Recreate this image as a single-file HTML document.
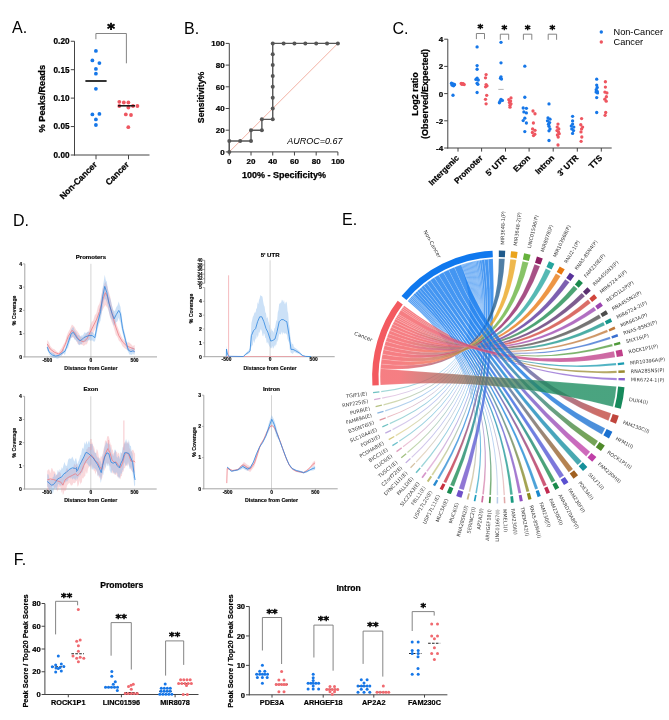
<!DOCTYPE html>
<html><head><meta charset="utf-8"><style>
html,body{margin:0;padding:0;background:#fff;}
svg{display:block;}
</style></head><body>
<svg width="669" height="720" viewBox="0 0 669 720">
<rect width="669" height="720" fill="#fff"/>
<text x="12" y="33" font-size="16" text-anchor="start" fill="#000" font-family='"Liberation Sans", Arial, sans-serif'>A.</text>
<line x1="74.5" y1="41.25" x2="74.5" y2="155.5" stroke="#444" stroke-width="1"/>
<line x1="74" y1="155" x2="149.5" y2="155" stroke="#444" stroke-width="1"/>
<line x1="70.8" y1="41.25" x2="74.5" y2="41.25" stroke="#444" stroke-width="1"/>
<text x="69.5" y="44.15" font-size="8.2" font-weight="bold" stroke="#000" stroke-width="0.23" text-anchor="end" fill="#000" font-family='"Liberation Sans", Arial, sans-serif'>0.20</text>
<line x1="70.8" y1="69.69" x2="74.5" y2="69.69" stroke="#444" stroke-width="1"/>
<text x="69.5" y="72.59" font-size="8.2" font-weight="bold" stroke="#000" stroke-width="0.23" text-anchor="end" fill="#000" font-family='"Liberation Sans", Arial, sans-serif'>0.15</text>
<line x1="70.8" y1="98.12" x2="74.5" y2="98.12" stroke="#444" stroke-width="1"/>
<text x="69.5" y="101.03" font-size="8.2" font-weight="bold" stroke="#000" stroke-width="0.23" text-anchor="end" fill="#000" font-family='"Liberation Sans", Arial, sans-serif'>0.10</text>
<line x1="70.8" y1="126.56" x2="74.5" y2="126.56" stroke="#444" stroke-width="1"/>
<text x="69.5" y="129.46" font-size="8.2" font-weight="bold" stroke="#000" stroke-width="0.23" text-anchor="end" fill="#000" font-family='"Liberation Sans", Arial, sans-serif'>0.05</text>
<line x1="70.8" y1="155" x2="74.5" y2="155" stroke="#444" stroke-width="1"/>
<text x="69.5" y="157.9" font-size="8.2" font-weight="bold" stroke="#000" stroke-width="0.23" text-anchor="end" fill="#000" font-family='"Liberation Sans", Arial, sans-serif'>0.00</text>
<line x1="96" y1="155" x2="96" y2="159.3" stroke="#444" stroke-width="1"/>
<line x1="128.5" y1="155" x2="128.5" y2="159.3" stroke="#444" stroke-width="1"/>
<text x="41.9" y="98.7" font-size="9.2" font-weight="bold" stroke="#000" stroke-width="0.25" text-anchor="middle" fill="#000" transform="rotate(-90 41.9 98.7)" font-family='"Liberation Sans", Arial, sans-serif' dominant-baseline="central">% Peaks/Reads</text>
<text x="97.6" y="165.2" font-size="8.6" font-weight="bold" stroke="#000" stroke-width="0.24" text-anchor="end" fill="#000" transform="rotate(-45 97.6 165.2)" font-family='"Liberation Sans", Arial, sans-serif'>Non-Cancer</text>
<text x="129.6" y="165.2" font-size="8.6" font-weight="bold" stroke="#000" stroke-width="0.24" text-anchor="end" fill="#000" transform="rotate(-45 129.6 165.2)" font-family='"Liberation Sans", Arial, sans-serif'>Cancer</text>
<path d="M95.9,39.2 V33.5 H126.4 V63.3" stroke="#777" stroke-width="0.9" fill="none"/>
<text x="111.1" y="32.97" font-size="14.5" font-weight="bold" text-anchor="middle" font-family='"DejaVu Sans", sans-serif' stroke="#000" stroke-width="0.73" stroke-linejoin="round">*</text>
<circle cx="95.9" cy="50.9" r="1.9" fill="#1677e8"/>
<circle cx="92.4" cy="60.4" r="1.9" fill="#1677e8"/>
<circle cx="99.4" cy="63.1" r="1.9" fill="#1677e8"/>
<circle cx="95.9" cy="68.9" r="1.9" fill="#1677e8"/>
<circle cx="95.9" cy="73.7" r="1.9" fill="#1677e8"/>
<circle cx="95.9" cy="88.8" r="1.9" fill="#1677e8"/>
<circle cx="92.4" cy="114.4" r="1.9" fill="#1677e8"/>
<circle cx="99.4" cy="113.9" r="1.9" fill="#1677e8"/>
<circle cx="95.9" cy="119.4" r="1.9" fill="#1677e8"/>
<circle cx="95.9" cy="125" r="1.9" fill="#1677e8"/>
<circle cx="119.3" cy="101.8" r="1.9" fill="#ee5660"/>
<circle cx="123.8" cy="102.5" r="1.9" fill="#ee5660"/>
<circle cx="128.4" cy="102.5" r="1.9" fill="#ee5660"/>
<circle cx="119.3" cy="106" r="1.9" fill="#ee5660"/>
<circle cx="128.4" cy="107.5" r="1.9" fill="#ee5660"/>
<circle cx="133" cy="106" r="1.9" fill="#ee5660"/>
<circle cx="137.4" cy="106" r="1.9" fill="#ee5660"/>
<circle cx="125.8" cy="114.4" r="1.9" fill="#ee5660"/>
<circle cx="131" cy="115" r="1.9" fill="#ee5660"/>
<circle cx="128.3" cy="127.2" r="1.9" fill="#ee5660"/>
<line x1="85.4" y1="81" x2="106.6" y2="81" stroke="#111" stroke-width="1.7"/>
<line x1="118" y1="105.8" x2="135" y2="105.8" stroke="#111" stroke-width="1.5"/>
<text x="184" y="34" font-size="16" text-anchor="start" fill="#000" font-family='"Liberation Sans", Arial, sans-serif'>B.</text>
<line x1="229.3" y1="43.4" x2="229.3" y2="152.4" stroke="#444" stroke-width="1"/>
<line x1="228.8" y1="151.9" x2="337.9" y2="151.9" stroke="#444" stroke-width="1"/>
<line x1="225.7" y1="151.9" x2="229.3" y2="151.9" stroke="#444" stroke-width="1"/>
<text x="224.7" y="154.7" font-size="8" font-weight="bold" stroke="#000" stroke-width="0.22" text-anchor="end" fill="#000" font-family='"Liberation Sans", Arial, sans-serif'>0</text>
<line x1="229.3" y1="151.9" x2="229.3" y2="155.5" stroke="#444" stroke-width="1"/>
<text x="229.3" y="163.9" font-size="8" font-weight="bold" stroke="#000" stroke-width="0.22" text-anchor="middle" fill="#000" font-family='"Liberation Sans", Arial, sans-serif'>0</text>
<line x1="225.7" y1="130.2" x2="229.3" y2="130.2" stroke="#444" stroke-width="1"/>
<text x="224.7" y="133" font-size="8" font-weight="bold" stroke="#000" stroke-width="0.22" text-anchor="end" fill="#000" font-family='"Liberation Sans", Arial, sans-serif'>20</text>
<line x1="251.02" y1="151.9" x2="251.02" y2="155.5" stroke="#444" stroke-width="1"/>
<text x="251.02" y="163.9" font-size="8" font-weight="bold" stroke="#000" stroke-width="0.22" text-anchor="middle" fill="#000" font-family='"Liberation Sans", Arial, sans-serif'>20</text>
<line x1="225.7" y1="108.5" x2="229.3" y2="108.5" stroke="#444" stroke-width="1"/>
<text x="224.7" y="111.3" font-size="8" font-weight="bold" stroke="#000" stroke-width="0.22" text-anchor="end" fill="#000" font-family='"Liberation Sans", Arial, sans-serif'>40</text>
<line x1="272.74" y1="151.9" x2="272.74" y2="155.5" stroke="#444" stroke-width="1"/>
<text x="272.74" y="163.9" font-size="8" font-weight="bold" stroke="#000" stroke-width="0.22" text-anchor="middle" fill="#000" font-family='"Liberation Sans", Arial, sans-serif'>40</text>
<line x1="225.7" y1="86.8" x2="229.3" y2="86.8" stroke="#444" stroke-width="1"/>
<text x="224.7" y="89.6" font-size="8" font-weight="bold" stroke="#000" stroke-width="0.22" text-anchor="end" fill="#000" font-family='"Liberation Sans", Arial, sans-serif'>60</text>
<line x1="294.46" y1="151.9" x2="294.46" y2="155.5" stroke="#444" stroke-width="1"/>
<text x="294.46" y="163.9" font-size="8" font-weight="bold" stroke="#000" stroke-width="0.22" text-anchor="middle" fill="#000" font-family='"Liberation Sans", Arial, sans-serif'>60</text>
<line x1="225.7" y1="65.1" x2="229.3" y2="65.1" stroke="#444" stroke-width="1"/>
<text x="224.7" y="67.9" font-size="8" font-weight="bold" stroke="#000" stroke-width="0.22" text-anchor="end" fill="#000" font-family='"Liberation Sans", Arial, sans-serif'>80</text>
<line x1="316.18" y1="151.9" x2="316.18" y2="155.5" stroke="#444" stroke-width="1"/>
<text x="316.18" y="163.9" font-size="8" font-weight="bold" stroke="#000" stroke-width="0.22" text-anchor="middle" fill="#000" font-family='"Liberation Sans", Arial, sans-serif'>80</text>
<line x1="225.7" y1="43.4" x2="229.3" y2="43.4" stroke="#444" stroke-width="1"/>
<text x="224.7" y="46.2" font-size="8" font-weight="bold" stroke="#000" stroke-width="0.22" text-anchor="end" fill="#000" font-family='"Liberation Sans", Arial, sans-serif'>100</text>
<line x1="337.9" y1="151.9" x2="337.9" y2="155.5" stroke="#444" stroke-width="1"/>
<text x="337.9" y="163.9" font-size="8" font-weight="bold" stroke="#000" stroke-width="0.22" text-anchor="middle" fill="#000" font-family='"Liberation Sans", Arial, sans-serif'>100</text>
<line x1="229.3" y1="151.9" x2="337.9" y2="43.4" stroke="#f0a898" stroke-width="0.9"/>
<polyline points="229.3,151.9 229.3,141.05 240.16,141.05 251.02,141.05 251.02,130.2 261.88,130.2 261.88,119.35 272.74,119.35 272.74,108.5 272.74,97.65 272.74,86.8 272.74,75.95 272.74,65.1 272.74,54.25 272.74,43.4 283.6,43.4 294.46,43.4 305.32,43.4 316.18,43.4 327.04,43.4 337.9,43.4" fill="none" stroke="#555" stroke-width="1.4"/>
<circle cx="229.3" cy="151.9" r="2" fill="#555"/>
<circle cx="229.3" cy="141.05" r="2" fill="#555"/>
<circle cx="240.16" cy="141.05" r="2" fill="#555"/>
<circle cx="251.02" cy="141.05" r="2" fill="#555"/>
<circle cx="251.02" cy="130.2" r="2" fill="#555"/>
<circle cx="261.88" cy="130.2" r="2" fill="#555"/>
<circle cx="261.88" cy="119.35" r="2" fill="#555"/>
<circle cx="272.74" cy="119.35" r="2" fill="#555"/>
<circle cx="272.74" cy="108.5" r="2" fill="#555"/>
<circle cx="272.74" cy="97.65" r="2" fill="#555"/>
<circle cx="272.74" cy="86.8" r="2" fill="#555"/>
<circle cx="272.74" cy="75.95" r="2" fill="#555"/>
<circle cx="272.74" cy="65.1" r="2" fill="#555"/>
<circle cx="272.74" cy="54.25" r="2" fill="#555"/>
<circle cx="272.74" cy="43.4" r="2" fill="#555"/>
<circle cx="283.6" cy="43.4" r="2" fill="#555"/>
<circle cx="294.46" cy="43.4" r="2" fill="#555"/>
<circle cx="305.32" cy="43.4" r="2" fill="#555"/>
<circle cx="316.18" cy="43.4" r="2" fill="#555"/>
<circle cx="327.04" cy="43.4" r="2" fill="#555"/>
<circle cx="337.9" cy="43.4" r="2" fill="#555"/>
<text x="200.9" y="97.4" font-size="8.75" font-weight="bold" stroke="#000" stroke-width="0.24" text-anchor="middle" fill="#000" transform="rotate(-90 200.9 97.4)" font-family='"Liberation Sans", Arial, sans-serif' dominant-baseline="central">Sensitivity%</text>
<text x="283.9" y="178" font-size="9" font-weight="bold" stroke="#000" stroke-width="0.25" text-anchor="middle" fill="#000" font-family='"Liberation Sans", Arial, sans-serif'>100% - Specificity%</text>
<text x="342.5" y="144.2" font-size="9" text-anchor="end" fill="#000" font-style="italic" font-family='"Liberation Sans", Arial, sans-serif'>AUROC=0.67</text>
<text x="392.5" y="34.2" font-size="16" text-anchor="start" fill="#000" font-family='"Liberation Sans", Arial, sans-serif'>C.</text>
<line x1="447.8" y1="39.2" x2="447.8" y2="148.5" stroke="#444" stroke-width="1"/>
<line x1="447.3" y1="148" x2="611.7" y2="148" stroke="#444" stroke-width="1"/>
<line x1="444.2" y1="39.2" x2="447.8" y2="39.2" stroke="#444" stroke-width="1"/>
<text x="443.2" y="42.1" font-size="8" font-weight="bold" stroke="#000" stroke-width="0.22" text-anchor="end" fill="#000" font-family='"Liberation Sans", Arial, sans-serif'>4</text>
<line x1="444.2" y1="66.4" x2="447.8" y2="66.4" stroke="#444" stroke-width="1"/>
<text x="443.2" y="69.3" font-size="8" font-weight="bold" stroke="#000" stroke-width="0.22" text-anchor="end" fill="#000" font-family='"Liberation Sans", Arial, sans-serif'>2</text>
<line x1="444.2" y1="93.6" x2="447.8" y2="93.6" stroke="#444" stroke-width="1"/>
<text x="443.2" y="96.5" font-size="8" font-weight="bold" stroke="#000" stroke-width="0.22" text-anchor="end" fill="#000" font-family='"Liberation Sans", Arial, sans-serif'>0</text>
<line x1="444.2" y1="120.8" x2="447.8" y2="120.8" stroke="#444" stroke-width="1"/>
<text x="443.2" y="123.7" font-size="8" font-weight="bold" stroke="#000" stroke-width="0.22" text-anchor="end" fill="#000" font-family='"Liberation Sans", Arial, sans-serif'>-2</text>
<line x1="444.2" y1="148" x2="447.8" y2="148" stroke="#444" stroke-width="1"/>
<text x="443.2" y="150.9" font-size="8" font-weight="bold" stroke="#000" stroke-width="0.22" text-anchor="end" fill="#000" font-family='"Liberation Sans", Arial, sans-serif'>-4</text>
<line x1="458" y1="148" x2="458" y2="151.6" stroke="#444" stroke-width="1"/>
<text x="459.6" y="158.4" font-size="8.2" font-weight="bold" stroke="#000" stroke-width="0.23" text-anchor="end" fill="#000" transform="rotate(-45 459.6 158.4)" font-family='"Liberation Sans", Arial, sans-serif'>Intergenic</text>
<line x1="481.6" y1="148" x2="481.6" y2="151.6" stroke="#444" stroke-width="1"/>
<text x="483.2" y="158.4" font-size="8.2" font-weight="bold" stroke="#000" stroke-width="0.23" text-anchor="end" fill="#000" transform="rotate(-45 483.2 158.4)" font-family='"Liberation Sans", Arial, sans-serif'>Promoter</text>
<line x1="505.5" y1="148" x2="505.5" y2="151.6" stroke="#444" stroke-width="1"/>
<text x="507.1" y="158.4" font-size="8.2" font-weight="bold" stroke="#000" stroke-width="0.23" text-anchor="end" fill="#000" transform="rotate(-45 507.1 158.4)" font-family='"Liberation Sans", Arial, sans-serif'>5' UTR</text>
<line x1="529.1" y1="148" x2="529.1" y2="151.6" stroke="#444" stroke-width="1"/>
<text x="530.7" y="158.4" font-size="8.2" font-weight="bold" stroke="#000" stroke-width="0.23" text-anchor="end" fill="#000" transform="rotate(-45 530.7 158.4)" font-family='"Liberation Sans", Arial, sans-serif'>Exon</text>
<line x1="553.2" y1="148" x2="553.2" y2="151.6" stroke="#444" stroke-width="1"/>
<text x="554.8" y="158.4" font-size="8.2" font-weight="bold" stroke="#000" stroke-width="0.23" text-anchor="end" fill="#000" transform="rotate(-45 554.8 158.4)" font-family='"Liberation Sans", Arial, sans-serif'>Intron</text>
<line x1="577.3" y1="148" x2="577.3" y2="151.6" stroke="#444" stroke-width="1"/>
<text x="578.9" y="158.4" font-size="8.2" font-weight="bold" stroke="#000" stroke-width="0.23" text-anchor="end" fill="#000" transform="rotate(-45 578.9 158.4)" font-family='"Liberation Sans", Arial, sans-serif'>3' UTR</text>
<line x1="601.3" y1="148" x2="601.3" y2="151.6" stroke="#444" stroke-width="1"/>
<text x="602.9" y="158.4" font-size="8.2" font-weight="bold" stroke="#000" stroke-width="0.23" text-anchor="end" fill="#000" transform="rotate(-45 602.9 158.4)" font-family='"Liberation Sans", Arial, sans-serif'>TTS</text>
<text x="414.9" y="94" font-size="9" font-weight="bold" stroke="#000" stroke-width="0.25" text-anchor="middle" fill="#000" transform="rotate(-90 414.9 94)" font-family='"Liberation Sans", Arial, sans-serif' dominant-baseline="central">Log2 ratio</text>
<text x="424.7" y="94" font-size="9" font-weight="bold" stroke="#000" stroke-width="0.25" text-anchor="middle" fill="#000" transform="rotate(-90 424.7 94)" font-family='"Liberation Sans", Arial, sans-serif' dominant-baseline="central">(Observed/Expected)</text>
<path d="M476.4,39.1 V33.5 H484.5 V39.1" stroke="#777" stroke-width="0.9" fill="none"/>
<text x="480.5" y="31.86" font-size="11" font-weight="bold" text-anchor="middle" font-family='"DejaVu Sans", sans-serif' stroke="#000" stroke-width="0.55" stroke-linejoin="round">*</text>
<path d="M500.3,39.8 V34.2 H508.7 V39.8" stroke="#777" stroke-width="0.9" fill="none"/>
<text x="504.5" y="32.66" font-size="11" font-weight="bold" text-anchor="middle" font-family='"DejaVu Sans", sans-serif' stroke="#000" stroke-width="0.55" stroke-linejoin="round">*</text>
<path d="M523.4,39.8 V34.2 H531.8 V39.8" stroke="#777" stroke-width="0.9" fill="none"/>
<text x="527.7" y="32.66" font-size="11" font-weight="bold" text-anchor="middle" font-family='"DejaVu Sans", sans-serif' stroke="#000" stroke-width="0.55" stroke-linejoin="round">*</text>
<path d="M548.2,39.8 V34.2 H556.6 V39.8" stroke="#777" stroke-width="0.9" fill="none"/>
<text x="552.4" y="32.66" font-size="11" font-weight="bold" text-anchor="middle" font-family='"DejaVu Sans", sans-serif' stroke="#000" stroke-width="0.55" stroke-linejoin="round">*</text>
<line x1="498.3" y1="89.4" x2="503.7" y2="89.4" stroke="#999" stroke-width="0.7"/>
<circle cx="601.3" cy="32" r="1.7" fill="#1677e8"/>
<circle cx="601.3" cy="42" r="1.7" fill="#ee5660"/>
<text x="613.5" y="35.2" font-size="9.2" text-anchor="start" fill="#000" font-family='"Liberation Sans", Arial, sans-serif'>Non-Cancer</text>
<text x="613.5" y="45.2" font-size="9.2" text-anchor="start" fill="#000" font-family='"Liberation Sans", Arial, sans-serif'>Cancer</text>
<circle cx="451.5" cy="83.26" r="1.65" fill="#1677e8"/>
<circle cx="453" cy="83.81" r="1.65" fill="#1677e8"/>
<circle cx="454.2" cy="84.35" r="1.65" fill="#1677e8"/>
<circle cx="452.2" cy="85.17" r="1.65" fill="#1677e8"/>
<circle cx="453.5" cy="85.85" r="1.65" fill="#1677e8"/>
<circle cx="454.5" cy="84.76" r="1.65" fill="#1677e8"/>
<circle cx="452" cy="84.08" r="1.65" fill="#1677e8"/>
<circle cx="453" cy="95.23" r="1.65" fill="#1677e8"/>
<circle cx="461.2" cy="83.4" r="1.65" fill="#ee5660"/>
<circle cx="462.4" cy="83.81" r="1.65" fill="#ee5660"/>
<circle cx="463.6" cy="84.08" r="1.65" fill="#ee5660"/>
<circle cx="461.8" cy="84.35" r="1.65" fill="#ee5660"/>
<circle cx="463" cy="83.67" r="1.65" fill="#ee5660"/>
<circle cx="464.2" cy="84.62" r="1.65" fill="#ee5660"/>
<circle cx="477.1" cy="46.95" r="1.65" fill="#1677e8"/>
<circle cx="477.1" cy="65.58" r="1.65" fill="#1677e8"/>
<circle cx="477.1" cy="69.26" r="1.65" fill="#1677e8"/>
<circle cx="477.1" cy="78.1" r="1.65" fill="#1677e8"/>
<circle cx="475.9" cy="79.46" r="1.65" fill="#1677e8"/>
<circle cx="478.3" cy="80" r="1.65" fill="#1677e8"/>
<circle cx="477.1" cy="83.26" r="1.65" fill="#1677e8"/>
<circle cx="477.9" cy="84.35" r="1.65" fill="#1677e8"/>
<circle cx="477.1" cy="92.51" r="1.65" fill="#1677e8"/>
<circle cx="486.1" cy="74.56" r="1.65" fill="#ee5660"/>
<circle cx="485.5" cy="77.82" r="1.65" fill="#ee5660"/>
<circle cx="486.1" cy="84.62" r="1.65" fill="#ee5660"/>
<circle cx="487" cy="85.85" r="1.65" fill="#ee5660"/>
<circle cx="485.6" cy="86.8" r="1.65" fill="#ee5660"/>
<circle cx="486.7" cy="95.37" r="1.65" fill="#ee5660"/>
<circle cx="485.5" cy="99.31" r="1.65" fill="#ee5660"/>
<circle cx="486.1" cy="103.8" r="1.65" fill="#ee5660"/>
<circle cx="501" cy="42.33" r="1.65" fill="#1677e8"/>
<circle cx="501" cy="62.86" r="1.65" fill="#1677e8"/>
<circle cx="501" cy="76.87" r="1.65" fill="#1677e8"/>
<circle cx="500.5" cy="78.23" r="1.65" fill="#1677e8"/>
<circle cx="501.5" cy="79.05" r="1.65" fill="#1677e8"/>
<circle cx="501" cy="99.31" r="1.65" fill="#1677e8"/>
<circle cx="502.4" cy="100.4" r="1.65" fill="#1677e8"/>
<circle cx="500" cy="101.49" r="1.65" fill="#1677e8"/>
<circle cx="499.4" cy="102.85" r="1.65" fill="#1677e8"/>
<circle cx="511" cy="97.95" r="1.65" fill="#ee5660"/>
<circle cx="508.8" cy="99.72" r="1.65" fill="#ee5660"/>
<circle cx="510.6" cy="101.08" r="1.65" fill="#ee5660"/>
<circle cx="509.4" cy="102.44" r="1.65" fill="#ee5660"/>
<circle cx="511" cy="103.8" r="1.65" fill="#ee5660"/>
<circle cx="510" cy="105.16" r="1.65" fill="#ee5660"/>
<circle cx="510" cy="107.2" r="1.65" fill="#ee5660"/>
<circle cx="524.8" cy="66.13" r="1.65" fill="#1677e8"/>
<circle cx="524.8" cy="97.27" r="1.65" fill="#1677e8"/>
<circle cx="523.2" cy="108.02" r="1.65" fill="#1677e8"/>
<circle cx="526.4" cy="108.29" r="1.65" fill="#1677e8"/>
<circle cx="523.9" cy="111.96" r="1.65" fill="#1677e8"/>
<circle cx="526.4" cy="112.91" r="1.65" fill="#1677e8"/>
<circle cx="524.8" cy="118.22" r="1.65" fill="#1677e8"/>
<circle cx="523.2" cy="120.53" r="1.65" fill="#1677e8"/>
<circle cx="526.4" cy="122.98" r="1.65" fill="#1677e8"/>
<circle cx="524.8" cy="131.54" r="1.65" fill="#1677e8"/>
<circle cx="533" cy="111.01" r="1.65" fill="#ee5660"/>
<circle cx="535" cy="113.73" r="1.65" fill="#ee5660"/>
<circle cx="533.4" cy="122.98" r="1.65" fill="#ee5660"/>
<circle cx="532.6" cy="128.96" r="1.65" fill="#ee5660"/>
<circle cx="535" cy="130.32" r="1.65" fill="#ee5660"/>
<circle cx="532.4" cy="132.5" r="1.65" fill="#ee5660"/>
<circle cx="534.8" cy="134.26" r="1.65" fill="#ee5660"/>
<circle cx="533.5" cy="135.62" r="1.65" fill="#ee5660"/>
<circle cx="549" cy="103.94" r="1.65" fill="#1677e8"/>
<circle cx="548" cy="117.94" r="1.65" fill="#1677e8"/>
<circle cx="550" cy="119.17" r="1.65" fill="#1677e8"/>
<circle cx="547.5" cy="120.8" r="1.65" fill="#1677e8"/>
<circle cx="549.6" cy="122.57" r="1.65" fill="#1677e8"/>
<circle cx="548.5" cy="124.2" r="1.65" fill="#1677e8"/>
<circle cx="549" cy="126.24" r="1.65" fill="#1677e8"/>
<circle cx="550" cy="128.96" r="1.65" fill="#1677e8"/>
<circle cx="549" cy="130.86" r="1.65" fill="#1677e8"/>
<circle cx="549" cy="140.52" r="1.65" fill="#1677e8"/>
<circle cx="558" cy="124.06" r="1.65" fill="#ee5660"/>
<circle cx="557.2" cy="127.06" r="1.65" fill="#ee5660"/>
<circle cx="558.8" cy="128.96" r="1.65" fill="#ee5660"/>
<circle cx="557" cy="130.59" r="1.65" fill="#ee5660"/>
<circle cx="558.5" cy="131.95" r="1.65" fill="#ee5660"/>
<circle cx="559.2" cy="133.72" r="1.65" fill="#ee5660"/>
<circle cx="557.4" cy="134.94" r="1.65" fill="#ee5660"/>
<circle cx="558.2" cy="136.98" r="1.65" fill="#ee5660"/>
<circle cx="558" cy="145.01" r="1.65" fill="#ee5660"/>
<circle cx="572.6" cy="116.31" r="1.65" fill="#1677e8"/>
<circle cx="572.6" cy="120.94" r="1.65" fill="#1677e8"/>
<circle cx="572.6" cy="124.06" r="1.65" fill="#1677e8"/>
<circle cx="571.3" cy="125.97" r="1.65" fill="#1677e8"/>
<circle cx="573.8" cy="127.06" r="1.65" fill="#1677e8"/>
<circle cx="571.8" cy="128.96" r="1.65" fill="#1677e8"/>
<circle cx="573.5" cy="130.59" r="1.65" fill="#1677e8"/>
<circle cx="572.6" cy="133.45" r="1.65" fill="#1677e8"/>
<circle cx="581.6" cy="118.62" r="1.65" fill="#ee5660"/>
<circle cx="580.8" cy="124.74" r="1.65" fill="#ee5660"/>
<circle cx="582.6" cy="127.06" r="1.65" fill="#ee5660"/>
<circle cx="581.6" cy="128.96" r="1.65" fill="#ee5660"/>
<circle cx="581" cy="131.95" r="1.65" fill="#ee5660"/>
<circle cx="581.8" cy="136.98" r="1.65" fill="#ee5660"/>
<circle cx="581.1" cy="141.34" r="1.65" fill="#ee5660"/>
<circle cx="596.7" cy="79.18" r="1.65" fill="#1677e8"/>
<circle cx="596.7" cy="85.03" r="1.65" fill="#1677e8"/>
<circle cx="597.2" cy="87.48" r="1.65" fill="#1677e8"/>
<circle cx="596.2" cy="89.66" r="1.65" fill="#1677e8"/>
<circle cx="597.2" cy="91.29" r="1.65" fill="#1677e8"/>
<circle cx="596.1" cy="92.1" r="1.65" fill="#1677e8"/>
<circle cx="597.5" cy="92.92" r="1.65" fill="#1677e8"/>
<circle cx="596.7" cy="97.54" r="1.65" fill="#1677e8"/>
<circle cx="596.7" cy="112.5" r="1.65" fill="#1677e8"/>
<circle cx="605.4" cy="81.77" r="1.65" fill="#ee5660"/>
<circle cx="605.4" cy="87.07" r="1.65" fill="#ee5660"/>
<circle cx="604.9" cy="92.1" r="1.65" fill="#ee5660"/>
<circle cx="606.9" cy="92.92" r="1.65" fill="#ee5660"/>
<circle cx="606.4" cy="96.73" r="1.65" fill="#ee5660"/>
<circle cx="604.8" cy="99.18" r="1.65" fill="#ee5660"/>
<circle cx="606.2" cy="101.22" r="1.65" fill="#ee5660"/>
<circle cx="605.7" cy="112.5" r="1.65" fill="#ee5660"/>
<circle cx="605.1" cy="115.36" r="1.65" fill="#ee5660"/>
<text x="13" y="225.5" font-size="16" text-anchor="start" fill="#000" font-family='"Liberation Sans", Arial, sans-serif'>D.</text>
<line x1="90.9" y1="263.8" x2="90.9" y2="356.9" stroke="#cfcfcf" stroke-width="0.9"/>
<line x1="24.8" y1="263.8" x2="24.8" y2="357.3" stroke="#9a9a9a" stroke-width="0.9"/>
<line x1="24.4" y1="356.9" x2="157" y2="356.9" stroke="#9a9a9a" stroke-width="0.9"/>
<line x1="23" y1="356.9" x2="24.8" y2="356.9" stroke="#9a9a9a" stroke-width="0.7"/>
<text x="22.1" y="358.75" font-size="5.2" font-weight="bold" stroke="#000" stroke-width="0.14" text-anchor="end" fill="#000" font-family='"Liberation Sans", Arial, sans-serif'>0</text>
<line x1="23" y1="333.63" x2="24.8" y2="333.63" stroke="#9a9a9a" stroke-width="0.7"/>
<text x="22.1" y="335.48" font-size="5.2" font-weight="bold" stroke="#000" stroke-width="0.14" text-anchor="end" fill="#000" font-family='"Liberation Sans", Arial, sans-serif'>1</text>
<line x1="23" y1="310.36" x2="24.8" y2="310.36" stroke="#9a9a9a" stroke-width="0.7"/>
<text x="22.1" y="312.21" font-size="5.2" font-weight="bold" stroke="#000" stroke-width="0.14" text-anchor="end" fill="#000" font-family='"Liberation Sans", Arial, sans-serif'>2</text>
<line x1="23" y1="287.09" x2="24.8" y2="287.09" stroke="#9a9a9a" stroke-width="0.7"/>
<text x="22.1" y="288.94" font-size="5.2" font-weight="bold" stroke="#000" stroke-width="0.14" text-anchor="end" fill="#000" font-family='"Liberation Sans", Arial, sans-serif'>3</text>
<line x1="23" y1="263.82" x2="24.8" y2="263.82" stroke="#9a9a9a" stroke-width="0.7"/>
<text x="22.1" y="265.67" font-size="5.2" font-weight="bold" stroke="#000" stroke-width="0.14" text-anchor="end" fill="#000" font-family='"Liberation Sans", Arial, sans-serif'>4</text>
<line x1="47.3" y1="356.9" x2="47.3" y2="358.7" stroke="#9a9a9a" stroke-width="0.7"/>
<text x="47.3" y="361.65" font-size="4.9" font-weight="bold" stroke="#000" stroke-width="0.13" text-anchor="middle" fill="#000" font-family='"Liberation Sans", Arial, sans-serif'>-500</text>
<line x1="90.9" y1="356.9" x2="90.9" y2="358.7" stroke="#9a9a9a" stroke-width="0.7"/>
<text x="90.9" y="361.65" font-size="4.9" font-weight="bold" stroke="#000" stroke-width="0.13" text-anchor="middle" fill="#000" font-family='"Liberation Sans", Arial, sans-serif'>0</text>
<line x1="134.5" y1="356.9" x2="134.5" y2="358.7" stroke="#9a9a9a" stroke-width="0.7"/>
<text x="134.5" y="361.65" font-size="4.9" font-weight="bold" stroke="#000" stroke-width="0.13" text-anchor="middle" fill="#000" font-family='"Liberation Sans", Arial, sans-serif'>500</text>
<text x="90.9" y="370.25" font-size="5.25" font-weight="bold" stroke="#000" stroke-width="0.14" text-anchor="middle" fill="#000" font-family='"Liberation Sans", Arial, sans-serif'>Distance from Center</text>
<text x="90.9" y="258.7" font-size="6.05" font-weight="bold" stroke="#000" stroke-width="0.17" text-anchor="middle" fill="#000" font-family='"Liberation Sans", Arial, sans-serif'>Promoters</text>
<text x="13.6" y="310.35" font-size="5.2" font-weight="bold" stroke="#000" stroke-width="0.14" text-anchor="middle" fill="#000" transform="rotate(-90 13.6 310.35)" font-family='"Liberation Sans", Arial, sans-serif' dominant-baseline="central">% Coverage</text>
<polygon points="47.2,340.05 48.77,341.88 50.34,345.93 52.43,348.54 54.53,349.24 56.62,351.54 58.71,352.51 60.28,349.68 61.85,347.63 63.42,344.6 64.99,341.99 66.56,336.25 68.13,332.29 70.01,329.08 71.89,324.44 73.15,325.45 74.4,326.7 75.97,329.81 77.54,331.47 79.11,333.67 80.68,336.79 82.25,337.45 83.82,336.86 85.39,334.86 86.96,332.77 88.53,331.56 90.1,325.67 91.67,321.89 93.24,320.55 94.81,315.18 96.38,313.29 97.95,306.29 99.51,303.59 101.08,297.02 102.65,288.66 104.01,285.04 105.37,281.75 106.42,284.31 107.47,286.75 108.72,291.92 109.98,295.44 111.55,303.73 113.12,310.58 114.48,314.38 115.84,321.68 117.3,326.21 118.77,329.63 120.65,334.43 122.53,338.55 124.62,340.58 126.72,342.66 128.81,342.16 130.9,344.08 132.79,345.9 134.67,344.93 134.67,353.17 132.79,350.89 130.9,352.04 128.81,350.38 126.72,349.59 124.62,348.18 122.53,346.35 120.65,342.41 118.77,340.38 117.3,336.65 115.84,334.92 114.48,330.05 113.12,325.43 111.55,321.76 109.98,316.67 108.72,311.33 107.47,307.71 106.42,306.49 105.37,304.93 104.01,307.33 102.65,309.77 101.08,314.37 99.51,319.72 97.95,324.56 96.38,327.05 94.81,329.56 93.24,333.13 91.67,335.22 90.1,338.07 88.53,340.09 86.96,344.35 85.39,344.53 83.82,345.9 82.25,344.63 80.68,344.58 79.11,344.44 77.54,343.83 75.97,339.81 74.4,338.55 73.15,337.61 71.89,337.22 70.01,338.94 68.13,341.06 66.56,344.16 64.99,347.6 63.42,351.95 61.85,355.67 60.28,354.34 58.71,357.24 56.62,355.26 54.53,355.77 52.43,353.74 50.34,352.59 48.77,350.06 47.2,348.08" fill="rgba(240,150,158,0.36)"/>
<polygon points="47.2,344.01 48.25,346.48 49.29,351.08 50.86,351.95 52.43,352.45 54,353.37 55.57,355 57.14,354.6 58.71,354.5 60.28,353.28 61.85,351.44 63.42,349 64.99,349.77 66.56,343.92 68.13,337.99 69.7,334.86 71.27,329.48 72.31,327.68 73.36,326.9 74.4,329.99 75.45,331.19 76.5,332.47 77.54,334.77 78.59,335.1 79.64,335.66 80.68,336.62 81.73,335.19 82.77,335.45 83.82,333.64 84.87,331.93 85.91,333.3 87.48,331.7 89.05,331.63 90.62,331.22 92.19,331.93 93.55,332.92 94.91,334.46 96.17,326.01 97.42,319.05 98.99,311.57 100.56,303.8 101.61,295.52 102.65,288.02 103.7,281.62 104.75,274.75 105.79,280.15 106.84,281.79 107.88,289.02 108.93,295.44 110.5,298.99 112.07,306.1 113.12,309.51 114.16,311.19 115.21,310.33 116.25,307.35 117.51,305.52 118.77,301.58 119.6,304.86 120.44,306.66 121.49,314.35 122.53,322.15 124.1,330.29 125.67,336.39 127.03,343.09 128.39,347.69 129.65,348.48 130.9,348.99 131.95,347.62 132.99,347.55 133.83,348.45 134.67,348.42 134.67,354.4 133.83,354.84 132.99,353.27 131.95,354.99 130.9,354.51 129.65,354.76 128.39,352.28 127.03,349.8 125.67,345.22 124.1,338.66 122.53,333.1 121.49,327.93 120.44,322.18 119.6,320.64 118.77,317.49 117.51,321.28 116.25,322.3 115.21,323.87 114.16,325.97 113.12,324.06 112.07,319.88 110.5,317.77 108.93,312.27 107.88,306.19 106.84,302.47 105.79,299.56 104.75,298.43 103.7,301.18 102.65,307.57 101.61,314.02 100.56,320.4 98.99,324.17 97.42,330.07 96.17,336.43 94.91,341.45 93.55,341.58 92.19,340.31 90.62,340.86 89.05,340 87.48,340.69 85.91,341.9 84.87,341.55 83.82,342.03 82.77,342.25 81.73,344.26 80.68,343.94 79.64,345.15 78.59,344.99 77.54,341.74 76.5,341.49 75.45,339.98 74.4,339.61 73.36,336.33 72.31,337.07 71.27,337.9 69.7,342.27 68.13,347.67 66.56,349.17 64.99,354.88 63.42,353.55 61.85,355.42 60.28,357.04 58.71,358.28 57.14,358.77 55.57,357.88 54,357.97 52.43,357.37 50.86,356.71 49.29,354.44 48.25,351.58 47.2,350.59" fill="rgba(120,175,235,0.38)"/>
<polyline points="47.2,343.93 50.34,349.16 54.53,352.3 58.71,353.97 61.85,351.67 64.99,344.98 68.13,336.61 71.89,330.33 74.4,332.42 77.54,337.65 80.68,340.79 83.82,341.84 86.96,338.7 90.1,332.42 93.24,326.14 96.38,319.87 99.51,311.5 102.65,299.99 105.37,292.66 107.47,296.85 109.98,306.27 113.12,317.77 115.84,327.19 118.77,335.56 122.53,341.84 126.72,346.02 130.9,347.7 134.67,349.16" fill="none" stroke="#ec7c84" stroke-width="0.8" stroke-linejoin="round"/>
<polyline points="47.2,347.07 49.29,352.3 52.43,355.02 55.57,356.07 58.71,355.44 61.85,353.35 64.99,351.25 68.13,342.88 71.27,333.47 73.36,332.42 75.45,335.56 77.54,338.7 79.64,340.79 81.73,339.75 83.82,337.65 85.91,336.61 89.05,335.56 92.19,335.56 94.91,337.65 97.42,324.05 100.56,311.5 102.65,296.85 104.75,286.39 106.84,292.66 108.93,303.13 112.07,313.59 114.16,318.82 116.25,314.64 118.77,310.45 120.44,313.59 122.53,328.24 125.67,340.79 128.39,350.21 130.9,351.67 132.99,350.84 134.67,351.67" fill="none" stroke="#2f86e0" stroke-width="0.8" stroke-linejoin="round"/>
<line x1="204.7" y1="260.3" x2="204.7" y2="283.3" stroke="#555" stroke-width="0.7"/>
<line x1="202.9" y1="283.3" x2="204.7" y2="283.3" stroke="#555" stroke-width="0.5"/>
<text x="202.4" y="284.9" font-size="4.5" font-weight="bold" stroke="#000" stroke-width="0.12" text-anchor="end" fill="#000" font-family='"Liberation Sans", Arial, sans-serif'>30</text>
<line x1="202.9" y1="278.7" x2="204.7" y2="278.7" stroke="#555" stroke-width="0.5"/>
<text x="202.4" y="280.3" font-size="4.5" font-weight="bold" stroke="#000" stroke-width="0.12" text-anchor="end" fill="#000" font-family='"Liberation Sans", Arial, sans-serif'>32</text>
<line x1="202.9" y1="274.1" x2="204.7" y2="274.1" stroke="#555" stroke-width="0.5"/>
<text x="202.4" y="275.7" font-size="4.5" font-weight="bold" stroke="#000" stroke-width="0.12" text-anchor="end" fill="#000" font-family='"Liberation Sans", Arial, sans-serif'>34</text>
<line x1="202.9" y1="269.5" x2="204.7" y2="269.5" stroke="#555" stroke-width="0.5"/>
<text x="202.4" y="271.1" font-size="4.5" font-weight="bold" stroke="#000" stroke-width="0.12" text-anchor="end" fill="#000" font-family='"Liberation Sans", Arial, sans-serif'>36</text>
<line x1="202.9" y1="264.9" x2="204.7" y2="264.9" stroke="#555" stroke-width="0.5"/>
<text x="202.4" y="266.5" font-size="4.5" font-weight="bold" stroke="#000" stroke-width="0.12" text-anchor="end" fill="#000" font-family='"Liberation Sans", Arial, sans-serif'>38</text>
<line x1="202.9" y1="260.3" x2="204.7" y2="260.3" stroke="#555" stroke-width="0.5"/>
<text x="202.4" y="261.9" font-size="4.5" font-weight="bold" stroke="#000" stroke-width="0.12" text-anchor="end" fill="#000" font-family='"Liberation Sans", Arial, sans-serif'>40</text>
<line x1="270.1" y1="260.3" x2="270.1" y2="356.7" stroke="#cfcfcf" stroke-width="0.9"/>
<line x1="204.7" y1="287.5" x2="204.7" y2="357.1" stroke="#9a9a9a" stroke-width="0.9"/>
<line x1="204.3" y1="356.7" x2="334.7" y2="356.7" stroke="#9a9a9a" stroke-width="0.9"/>
<line x1="202.9" y1="356.7" x2="204.7" y2="356.7" stroke="#9a9a9a" stroke-width="0.7"/>
<text x="202" y="358.55" font-size="5.2" font-weight="bold" stroke="#000" stroke-width="0.14" text-anchor="end" fill="#000" font-family='"Liberation Sans", Arial, sans-serif'>0</text>
<line x1="202.9" y1="342.86" x2="204.7" y2="342.86" stroke="#9a9a9a" stroke-width="0.7"/>
<text x="202" y="344.71" font-size="5.2" font-weight="bold" stroke="#000" stroke-width="0.14" text-anchor="end" fill="#000" font-family='"Liberation Sans", Arial, sans-serif'>1</text>
<line x1="202.9" y1="329.02" x2="204.7" y2="329.02" stroke="#9a9a9a" stroke-width="0.7"/>
<text x="202" y="330.87" font-size="5.2" font-weight="bold" stroke="#000" stroke-width="0.14" text-anchor="end" fill="#000" font-family='"Liberation Sans", Arial, sans-serif'>2</text>
<line x1="202.9" y1="315.18" x2="204.7" y2="315.18" stroke="#9a9a9a" stroke-width="0.7"/>
<text x="202" y="317.03" font-size="5.2" font-weight="bold" stroke="#000" stroke-width="0.14" text-anchor="end" fill="#000" font-family='"Liberation Sans", Arial, sans-serif'>3</text>
<line x1="202.9" y1="301.34" x2="204.7" y2="301.34" stroke="#9a9a9a" stroke-width="0.7"/>
<text x="202" y="303.19" font-size="5.2" font-weight="bold" stroke="#000" stroke-width="0.14" text-anchor="end" fill="#000" font-family='"Liberation Sans", Arial, sans-serif'>4</text>
<line x1="202.9" y1="287.5" x2="204.7" y2="287.5" stroke="#9a9a9a" stroke-width="0.7"/>
<text x="202" y="289.35" font-size="5.2" font-weight="bold" stroke="#000" stroke-width="0.14" text-anchor="end" fill="#000" font-family='"Liberation Sans", Arial, sans-serif'>5</text>
<line x1="226.5" y1="356.7" x2="226.5" y2="358.5" stroke="#9a9a9a" stroke-width="0.7"/>
<text x="226.5" y="361.45" font-size="4.9" font-weight="bold" stroke="#000" stroke-width="0.13" text-anchor="middle" fill="#000" font-family='"Liberation Sans", Arial, sans-serif'>-500</text>
<line x1="270.1" y1="356.7" x2="270.1" y2="358.5" stroke="#9a9a9a" stroke-width="0.7"/>
<text x="270.1" y="361.45" font-size="4.9" font-weight="bold" stroke="#000" stroke-width="0.13" text-anchor="middle" fill="#000" font-family='"Liberation Sans", Arial, sans-serif'>0</text>
<line x1="313.7" y1="356.7" x2="313.7" y2="358.5" stroke="#9a9a9a" stroke-width="0.7"/>
<text x="313.7" y="361.45" font-size="4.9" font-weight="bold" stroke="#000" stroke-width="0.13" text-anchor="middle" fill="#000" font-family='"Liberation Sans", Arial, sans-serif'>500</text>
<text x="270.1" y="370.05" font-size="5.25" font-weight="bold" stroke="#000" stroke-width="0.14" text-anchor="middle" fill="#000" font-family='"Liberation Sans", Arial, sans-serif'>Distance from Center</text>
<text x="270.1" y="257" font-size="6.05" font-weight="bold" stroke="#000" stroke-width="0.17" text-anchor="middle" fill="#000" font-family='"Liberation Sans", Arial, sans-serif'>5' UTR</text>
<text x="191" y="308.5" font-size="5.2" font-weight="bold" stroke="#000" stroke-width="0.14" text-anchor="middle" fill="#000" transform="rotate(-90 191 308.5)" font-family='"Liberation Sans", Arial, sans-serif' dominant-baseline="central">% Coverage</text>
<polygon points="226.3,356.2 226.37,352.87 226.43,349.32 226.5,345.69 226.73,347.66 226.97,349.55 227.2,351.45 227.63,353.01 228.07,354.57 228.5,356 233.43,356.07 238.37,356.13 243.3,356.2 244.13,355.33 244.97,354.24 245.8,353.15 246.63,352.35 247.47,351.54 248.3,350.74 248.87,349.93 249.43,349.13 250,348.32 250.47,338.08 250.93,331.83 251.4,323.23 252.1,320.33 252.8,316.96 253.5,315.75 254.2,313.62 254.9,312.36 255.6,312.52 256.27,308.54 256.93,308.56 257.6,301.88 258.3,304.15 259,299.9 259.7,298.28 260.4,294.81 261.1,296.35 261.8,295.73 262.5,297.08 263.2,301.65 263.9,305.14 264.6,306.67 265.3,312.35 266,313.14 266.6,318.2 267.2,318.23 267.8,316.39 268.33,321.32 268.87,322.54 269.4,325.37 269.87,325.02 270.33,330.02 270.8,333.12 271.5,328.35 272.2,330.59 272.9,331.06 273.6,332.77 274.3,328.44 275,327.8 275.7,323.89 276.4,320.13 277.1,320.64 277.8,312.13 278.5,310.08 279.2,303.44 279.88,303.82 280.57,302.8 281.25,302.22 281.93,299.38 282.62,300.6 283.3,302.16 284,299.86 284.7,304.22 285.4,301.82 285.87,304.41 286.33,301.67 286.8,301.87 287.5,310.9 288.2,313.52 288.9,323.4 289.37,326.16 289.83,329.09 290.3,337.42 290.53,336.28 290.77,338.89 291,345.56 291.67,341.57 292.33,344.26 293,343.82 293.93,347 294.87,347.66 295.8,348.32 296.97,349.32 298.13,350.31 299.3,351.3 300.47,352.63 301.63,353.95 302.8,355.28 303.73,355.61 304.67,355.87 305.6,356.1 307.4,356.17 309.2,356.23 311,356.3 311,356.7 309.2,356.7 307.4,356.69 305.6,356.62 304.67,356.39 303.73,356.17 302.8,356.01 301.63,355.38 300.47,354.74 299.3,354.1 298.13,353.62 296.97,353.14 295.8,352.66 294.87,352.34 293.93,352.02 293,353.75 292.33,353.78 291.67,353.06 291,353.16 290.77,352.17 290.53,352.4 290.3,349.32 289.83,349.91 289.37,344.46 288.9,341.89 288.2,340.69 287.5,338.83 286.8,333.57 286.33,334.76 285.87,334.07 285.4,332.75 284.7,334.1 284,332.8 283.3,332.4 282.62,334.96 281.93,331.42 281.25,333.17 280.57,334.74 279.88,333.81 279.2,334.33 278.5,337.22 277.8,341.97 277.1,339.67 276.4,344.8 275.7,344.6 275,346.91 274.3,345.2 273.6,348.29 272.9,348.43 272.2,345.75 271.5,348.46 270.8,347.52 270.33,348.68 269.87,346.68 269.4,346.31 268.87,345.06 268.33,343.57 267.8,341.74 267.2,343.84 266.6,342.59 266,338.23 265.3,337.92 264.6,334.46 263.9,333.11 263.2,336.6 262.5,335.39 261.8,331.02 261.1,329.59 260.4,329.59 259.7,333.21 259,331.24 258.3,335.61 257.6,337.67 256.93,334.62 256.27,338.74 255.6,338.51 254.9,340.78 254.2,343.23 253.5,339.71 252.8,344.96 252.1,345.77 251.4,346.77 250.93,348.64 250.47,351.12 250,352.66 249.43,353.05 248.87,353.43 248.3,353.82 247.47,354.21 246.63,354.6 245.8,354.99 244.97,355.51 244.13,356.04 243.3,356.7 238.37,356.66 233.43,356.59 228.5,356.53 228.07,355.67 227.63,354.92 227.2,354.17 226.97,353.25 226.73,352.34 226.5,355.61 226.43,353.14 226.37,354.85 226.3,356.7" fill="rgba(120,175,235,0.38)"/>
<line x1="228.6" y1="275.3" x2="228.6" y2="356.7" stroke="#f4b4b8" stroke-width="0.9"/>
<line x1="226" y1="356.5" x2="306" y2="356.5" stroke="#f0a0a6" stroke-width="0.8"/>
<polyline points="226.3,356.5 226.5,349 227.2,353 228.5,356.3 243.3,356.5 245.8,354.2 248.3,352.5 250,350.8 251.4,335.6 253.5,330.7 255.6,328.6 257.6,321.7 259.7,316.8 261.8,316.8 263.9,321.7 266,328.6 267.8,332.1 269.4,337 270.8,341.1 272.9,340.4 275,339 277.1,331.4 279.2,321.7 281.25,319.6 283.3,319.6 285.4,321 286.8,321.7 288.9,334.2 290.3,343.9 291,349.4 293,349.4 295.8,350.8 299.3,352.9 302.8,355.7 305.6,356.4 311,356.6" fill="none" stroke="#2f86e0" stroke-width="0.8" stroke-linejoin="round"/>
<line x1="90.8" y1="396.3" x2="90.8" y2="489" stroke="#cfcfcf" stroke-width="0.9"/>
<line x1="24.6" y1="396.3" x2="24.6" y2="489.4" stroke="#9a9a9a" stroke-width="0.9"/>
<line x1="24.2" y1="489" x2="156.7" y2="489" stroke="#9a9a9a" stroke-width="0.9"/>
<line x1="22.8" y1="489" x2="24.6" y2="489" stroke="#9a9a9a" stroke-width="0.7"/>
<text x="21.9" y="490.85" font-size="5.2" font-weight="bold" stroke="#000" stroke-width="0.14" text-anchor="end" fill="#000" font-family='"Liberation Sans", Arial, sans-serif'>0</text>
<line x1="22.8" y1="465.83" x2="24.6" y2="465.83" stroke="#9a9a9a" stroke-width="0.7"/>
<text x="21.9" y="467.68" font-size="5.2" font-weight="bold" stroke="#000" stroke-width="0.14" text-anchor="end" fill="#000" font-family='"Liberation Sans", Arial, sans-serif'>1</text>
<line x1="22.8" y1="442.66" x2="24.6" y2="442.66" stroke="#9a9a9a" stroke-width="0.7"/>
<text x="21.9" y="444.51" font-size="5.2" font-weight="bold" stroke="#000" stroke-width="0.14" text-anchor="end" fill="#000" font-family='"Liberation Sans", Arial, sans-serif'>2</text>
<line x1="22.8" y1="419.49" x2="24.6" y2="419.49" stroke="#9a9a9a" stroke-width="0.7"/>
<text x="21.9" y="421.34" font-size="5.2" font-weight="bold" stroke="#000" stroke-width="0.14" text-anchor="end" fill="#000" font-family='"Liberation Sans", Arial, sans-serif'>3</text>
<line x1="22.8" y1="396.32" x2="24.6" y2="396.32" stroke="#9a9a9a" stroke-width="0.7"/>
<text x="21.9" y="398.17" font-size="5.2" font-weight="bold" stroke="#000" stroke-width="0.14" text-anchor="end" fill="#000" font-family='"Liberation Sans", Arial, sans-serif'>4</text>
<line x1="47.1" y1="489" x2="47.1" y2="490.8" stroke="#9a9a9a" stroke-width="0.7"/>
<text x="47.1" y="493.75" font-size="4.9" font-weight="bold" stroke="#000" stroke-width="0.13" text-anchor="middle" fill="#000" font-family='"Liberation Sans", Arial, sans-serif'>-500</text>
<line x1="90.8" y1="489" x2="90.8" y2="490.8" stroke="#9a9a9a" stroke-width="0.7"/>
<text x="90.8" y="493.75" font-size="4.9" font-weight="bold" stroke="#000" stroke-width="0.13" text-anchor="middle" fill="#000" font-family='"Liberation Sans", Arial, sans-serif'>0</text>
<line x1="134.5" y1="489" x2="134.5" y2="490.8" stroke="#9a9a9a" stroke-width="0.7"/>
<text x="134.5" y="493.75" font-size="4.9" font-weight="bold" stroke="#000" stroke-width="0.13" text-anchor="middle" fill="#000" font-family='"Liberation Sans", Arial, sans-serif'>500</text>
<text x="90.8" y="502.35" font-size="5.25" font-weight="bold" stroke="#000" stroke-width="0.14" text-anchor="middle" fill="#000" font-family='"Liberation Sans", Arial, sans-serif'>Distance from Center</text>
<text x="90.8" y="391" font-size="6.05" font-weight="bold" stroke="#000" stroke-width="0.17" text-anchor="middle" fill="#000" font-family='"Liberation Sans", Arial, sans-serif'>Exon</text>
<text x="13.6" y="442.65" font-size="5.2" font-weight="bold" stroke="#000" stroke-width="0.14" text-anchor="middle" fill="#000" transform="rotate(-90 13.6 442.65)" font-family='"Liberation Sans", Arial, sans-serif' dominant-baseline="central">% Coverage</text>
<polygon points="47.2,470.98 48.25,469.55 49.29,469.48 50.34,473.35 51.39,468.1 52.43,468.59 53.48,471.42 54.87,471.53 56.27,475.27 57.66,474.23 58.71,471.71 59.76,471.92 60.8,473.39 61.5,478.28 62.2,478.23 62.9,474.78 63.59,476.95 64.29,473.47 64.99,473.49 66.03,469.62 67.08,467.44 68.13,469.68 69.52,470.18 70.92,468.45 72.31,469.45 73.36,466.8 74.4,463.28 75.45,465.66 76.15,464.12 76.85,463.3 77.54,465.44 78.24,469.04 78.94,466.16 79.64,467.5 80.33,465.28 81.03,463.99 81.73,458.4 82.43,459.93 83.12,456.86 83.82,457.37 84.52,451.64 85.22,454.62 85.91,452.7 86.61,448.63 87.31,449.3 88.01,447.11 89.05,447.05 90.1,447.05 91.14,441.95 91.84,445.91 92.54,441.76 93.24,446.04 93.93,446.5 94.63,448.92 95.33,452.91 96.03,453.45 96.72,449.01 97.42,450.05 98.12,452.25 98.82,456.98 99.51,458.31 100.21,458.63 100.91,455.6 101.61,456.93 102.3,455.88 103,451.96 103.7,448.44 104.4,446.21 105.09,440.33 105.79,440.71 106.49,441.58 107.19,435.83 107.88,436.76 108.58,435.87 109.28,438.13 109.98,441.52 110.67,444.8 111.37,444.65 112.07,450.29 112.77,448.95 113.46,453.57 114.16,452.93 114.86,451.66 115.56,450.55 116.25,452.35 116.95,451.2 117.65,454.72 118.35,452.8 119.04,452.95 119.74,456.5 120.44,459.4 121.14,453.19 121.83,453.07 122.53,451.25 123.23,447.77 123.93,445.28 124.62,442.35 125.32,441.47 126.02,444.33 126.72,441.06 127.41,443.18 128.11,441.51 128.81,443.26 129.51,448.15 130.2,448.96 130.9,452.08 131.95,450.45 132.99,449.57 134.04,451.82 134.39,453.64 134.74,452.37 135.09,453.75 135.09,474.93 134.74,472.1 134.39,471.78 134.04,474.46 132.99,472.59 131.95,471.33 130.9,469.26 130.2,468.33 129.51,466.25 128.81,465 128.11,463.3 127.41,466.56 126.72,465.75 126.02,463.41 125.32,467.37 124.62,468.29 123.93,468.57 123.23,471.93 122.53,471.87 121.83,476.36 121.14,476.11 120.44,479.46 119.74,477.02 119.04,478.98 118.35,476.77 117.65,476.8 116.95,475.81 116.25,473.81 115.56,474.73 114.86,474.84 114.16,473.97 113.46,472.63 112.77,472.23 112.07,473.82 111.37,470.19 110.67,466.86 109.98,466.07 109.28,465.2 108.58,463.61 107.88,462.96 107.19,464.65 106.49,462.28 105.79,463.88 105.09,467.41 104.4,471.38 103.7,468.12 103,471.99 102.3,477.62 101.61,478.96 100.91,480.46 100.21,477.16 99.51,478.61 98.82,474.95 98.12,475.87 97.42,475.64 96.72,470.43 96.03,472.31 95.33,474.54 94.63,470.38 93.93,471.6 93.24,466.87 92.54,468.05 91.84,464.54 91.14,469.63 90.1,465.62 89.05,466.87 88.01,468.76 87.31,473.15 86.61,473.83 85.91,471.09 85.22,475.92 84.52,476.6 83.82,477.13 83.12,478.8 82.43,477.77 81.73,482.79 81.03,482.58 80.33,484.67 79.64,480.12 78.94,483.91 78.24,485.77 77.54,486.71 76.85,481.18 76.15,480.78 75.45,482.73 74.4,483.21 73.36,482.66 72.31,485.35 70.92,485.5 69.52,482.87 68.13,484.08 67.08,485.59 66.03,490.32 64.99,490.89 64.29,490.81 63.59,494.01 62.9,494.97 62.2,490.13 61.5,493.17 60.8,487.8 59.76,487.57 58.71,487.4 57.66,491.64 56.27,487.02 54.87,488.74 53.48,486.36 52.43,485.38 51.39,488.41 50.34,487.13 49.29,490.17 48.25,490.59 47.2,489.69" fill="rgba(240,150,158,0.36)"/>
<polygon points="47.2,475.02 47.9,473.68 48.6,475 49.29,478.5 49.99,479.41 50.69,480.01 51.39,478.67 52.08,480.24 52.78,476.98 53.48,477.04 54.18,473.7 54.87,473.46 55.57,476.8 56.27,474.64 56.97,474.22 57.66,470.29 58.36,470.44 59.06,472.98 59.76,468.86 60.45,470.66 61.15,469.43 61.85,466.99 62.55,469.11 63.24,466.24 63.94,463.83 64.64,461.94 65.34,464.91 66.03,466.12 67.08,465.61 68.13,460.08 69.17,458.23 70.22,458.68 71.27,458.74 72.31,456.55 73.36,458.98 74.4,461.7 75.45,458.42 76.15,458.16 76.85,461.56 77.54,464.53 78.24,461.68 78.94,460.37 79.64,457.98 80.33,454.83 81.03,455.12 81.73,450.73 82.43,447.53 83.12,449.2 83.82,447.14 84.52,441.81 85.22,444.77 85.91,442.69 86.61,440.87 87.31,444.7 88.01,442.82 89.05,440.34 90.1,443.99 91.14,444.05 91.84,443.5 92.54,444.44 93.24,448.12 93.93,451.04 94.63,452.47 95.33,452.77 96.03,453.17 96.72,456.39 97.42,456.96 98.12,458.99 98.82,457.04 99.51,460.79 100.07,461.69 100.63,460.36 101.19,464.23 101.68,463.75 102.17,459.46 102.65,453.78 103.35,455.46 104.05,449.28 104.75,446.04 105.44,444.55 106.14,440.96 106.84,443 107.54,443.96 108.23,442.16 108.93,443.77 109.63,444.03 110.33,446.94 111.02,450.3 111.72,454.24 112.42,453.86 113.12,456.22 113.81,454.44 114.51,449.86 115.21,449.58 115.91,450.82 116.6,456.56 117.3,458.05 118,456.27 118.7,455.76 119.39,457.67 119.88,459.35 120.37,452.66 120.86,451.89 121.42,454.13 121.97,452.03 122.53,447.01 123.23,447.67 123.93,442.98 124.62,443.8 125.32,439.14 126.02,443.69 126.72,438.68 127.41,442.7 128.11,444.25 128.81,439.45 129.51,443.85 130.2,446.14 130.9,445.52 131.46,450.54 132.02,452.19 132.58,453.65 133.06,458.75 133.55,461.75 134.04,464.71 134.39,468.05 134.74,469.93 135.09,472.16 135.09,484.76 134.74,486.02 134.39,486.52 134.04,484.61 133.55,478.6 133.06,477.97 132.58,471.69 132.02,471.48 131.46,468.51 130.9,466.8 130.2,469.43 129.51,468.47 128.81,465.43 128.11,461.43 127.41,464.46 126.72,464.93 126.02,465.94 125.32,465.82 124.62,461.89 123.93,464.13 123.23,470.91 122.53,469.73 121.97,473.07 121.42,473.91 120.86,472.95 120.37,476.12 119.88,476.72 119.39,478.89 118.7,476.36 118,478.28 117.3,473.5 116.6,472.6 115.91,472.4 115.21,475.1 114.51,472.16 113.81,473.94 113.12,471.76 112.42,469.96 111.72,472.59 111.02,473.62 110.33,471.59 109.63,470.23 108.93,463.23 108.23,466.27 107.54,465.92 106.84,463.18 106.14,466.37 105.44,469.28 104.75,464.79 104.05,467.93 103.35,475.19 102.65,472.88 102.17,475.62 101.68,476.77 101.19,481.18 100.63,483.02 100.07,476.59 99.51,476.72 98.82,474.32 98.12,477.46 97.42,473.18 96.72,470.99 96.03,469.49 95.33,469.24 94.63,467.76 93.93,470.25 93.24,467.93 92.54,469.72 91.84,469 91.14,464.04 90.1,466.63 89.05,466.28 88.01,464.75 87.31,463.62 86.61,462.44 85.91,463.53 85.22,463.35 84.52,464.2 83.82,469.93 83.12,468.33 82.43,472.24 81.73,473.57 81.03,472.17 80.33,475.92 79.64,473.39 78.94,478.03 78.24,475.64 77.54,479.23 76.85,479.86 76.15,476.95 75.45,480.6 74.4,478.66 73.36,478.26 72.31,479.76 71.27,477.31 70.22,478.63 69.17,477.43 68.13,479.9 67.08,481.38 66.03,481.21 65.34,483.12 64.64,479.59 63.94,480.92 63.24,485.35 62.55,484.46 61.85,486.11 61.15,484.02 60.45,486.04 59.76,485.4 59.06,484.37 58.36,483.81 57.66,485.97 56.97,488.14 56.27,490.46 55.57,487.18 54.87,488.94 54.18,488.21 53.48,491.04 52.78,494.52 52.08,490.36 51.39,494.16 50.69,489.14 49.99,490.59 49.29,490.43 48.6,489.09 47.9,486.84 47.2,486.83" fill="rgba(120,175,235,0.38)"/>
<polyline points="47.2,479.98 50.34,478.93 53.48,479.56 57.66,481.02 60.8,482.07 62.9,485.21 64.99,479.98 68.13,477.47 72.31,475.37 75.45,473.7 77.54,475.79 79.64,473.7 81.73,470.56 83.82,465.33 85.91,461.14 88.01,458.63 91.14,454.87 93.24,456.96 95.33,461.14 97.42,462.19 99.51,466.38 101.61,469.51 103.7,459.05 105.79,452.77 107.88,448.59 109.98,452.77 112.07,460.1 114.16,462.19 116.25,462.19 118.35,465.33 120.44,467.42 122.53,463.24 124.62,454.87 126.72,452.77 128.81,454.87 130.9,461.14 134.04,461.14 135.09,462.19" fill="none" stroke="#ec7c84" stroke-width="0.8" stroke-linejoin="round"/>
<polyline points="47.2,481.44 49.29,483.12 51.39,485.21 53.48,484.58 55.57,482.07 57.66,478.93 59.76,477.88 61.85,476.84 63.94,473.7 66.03,472.65 69.17,469.51 72.31,467.84 75.45,468.47 77.54,470.56 79.64,465.33 81.73,461.14 83.82,456.96 85.91,452.36 88.01,453.19 91.14,455.91 93.24,458.01 95.33,461.14 97.42,464.28 99.51,468.47 101.19,472.65 102.65,465.33 104.75,456.96 106.84,452.77 108.93,453.82 111.02,462.19 113.12,463.24 115.21,462.19 117.3,465.75 119.39,467.84 120.86,463.24 122.53,460.1 124.62,452.77 126.72,452.77 128.81,453.4 130.9,458.01 132.58,462.19 134.04,473.7 135.09,479.98" fill="none" stroke="#2f86e0" stroke-width="0.8" stroke-linejoin="round"/>
<line x1="76.5" y1="467" x2="76.5" y2="472" stroke="#2f86e0" stroke-width="0.6"/>
<line x1="123.9" y1="420.5" x2="123.9" y2="450" stroke="#f2a0a6" stroke-width="0.6"/>
<line x1="108.5" y1="440" x2="108.5" y2="452" stroke="#f2a0a6" stroke-width="0.6"/>
<line x1="91" y1="439" x2="91" y2="450" stroke="#f2a0a6" stroke-width="0.6"/>
<line x1="271.5" y1="395.2" x2="271.5" y2="488.8" stroke="#cfcfcf" stroke-width="0.9"/>
<line x1="203.8" y1="395.2" x2="203.8" y2="489.2" stroke="#9a9a9a" stroke-width="0.9"/>
<line x1="203.4" y1="488.8" x2="337.7" y2="488.8" stroke="#9a9a9a" stroke-width="0.9"/>
<line x1="202" y1="488.8" x2="203.8" y2="488.8" stroke="#9a9a9a" stroke-width="0.7"/>
<text x="201.1" y="490.65" font-size="5.2" font-weight="bold" stroke="#000" stroke-width="0.14" text-anchor="end" fill="#000" font-family='"Liberation Sans", Arial, sans-serif'>0</text>
<line x1="202" y1="457.6" x2="203.8" y2="457.6" stroke="#9a9a9a" stroke-width="0.7"/>
<text x="201.1" y="459.45" font-size="5.2" font-weight="bold" stroke="#000" stroke-width="0.14" text-anchor="end" fill="#000" font-family='"Liberation Sans", Arial, sans-serif'>1</text>
<line x1="202" y1="426.4" x2="203.8" y2="426.4" stroke="#9a9a9a" stroke-width="0.7"/>
<text x="201.1" y="428.25" font-size="5.2" font-weight="bold" stroke="#000" stroke-width="0.14" text-anchor="end" fill="#000" font-family='"Liberation Sans", Arial, sans-serif'>2</text>
<line x1="202" y1="395.2" x2="203.8" y2="395.2" stroke="#9a9a9a" stroke-width="0.7"/>
<text x="201.1" y="397.05" font-size="5.2" font-weight="bold" stroke="#000" stroke-width="0.14" text-anchor="end" fill="#000" font-family='"Liberation Sans", Arial, sans-serif'>3</text>
<line x1="227.6" y1="488.8" x2="227.6" y2="490.6" stroke="#9a9a9a" stroke-width="0.7"/>
<text x="227.6" y="493.55" font-size="4.9" font-weight="bold" stroke="#000" stroke-width="0.13" text-anchor="middle" fill="#000" font-family='"Liberation Sans", Arial, sans-serif'>-500</text>
<line x1="271.5" y1="488.8" x2="271.5" y2="490.6" stroke="#9a9a9a" stroke-width="0.7"/>
<text x="271.5" y="493.55" font-size="4.9" font-weight="bold" stroke="#000" stroke-width="0.13" text-anchor="middle" fill="#000" font-family='"Liberation Sans", Arial, sans-serif'>0</text>
<line x1="315.4" y1="488.8" x2="315.4" y2="490.6" stroke="#9a9a9a" stroke-width="0.7"/>
<text x="315.4" y="493.55" font-size="4.9" font-weight="bold" stroke="#000" stroke-width="0.13" text-anchor="middle" fill="#000" font-family='"Liberation Sans", Arial, sans-serif'>500</text>
<text x="271.5" y="502.15" font-size="5.25" font-weight="bold" stroke="#000" stroke-width="0.14" text-anchor="middle" fill="#000" font-family='"Liberation Sans", Arial, sans-serif'>Distance from Center</text>
<text x="271.5" y="390.7" font-size="6.05" font-weight="bold" stroke="#000" stroke-width="0.17" text-anchor="middle" fill="#000" font-family='"Liberation Sans", Arial, sans-serif'>Intron</text>
<text x="193.5" y="442" font-size="5.2" font-weight="bold" stroke="#000" stroke-width="0.14" text-anchor="middle" fill="#000" transform="rotate(-90 193.5 442)" font-family='"Liberation Sans", Arial, sans-serif' dominant-baseline="central">% Coverage</text>
<polygon points="226.78,482.42 227.2,467.77 229.29,468.4 232.43,469.86 235.57,469.44 238.71,468.4 241.85,464.63 243.94,462.01 247.08,464.52 250.22,466.2 254.4,460.34 257.54,450.92 260.68,443.7 263.82,438.47 266.96,431.15 270.1,425.92 272.19,424.87 274.28,426.96 277.42,433.24 280.56,441.61 283.7,451.03 286.84,459.4 289.98,465.68 293.12,468.81 296.25,470.49 300.44,471.33 303.58,471.95 306.72,469.86 309.86,467.14 312.99,462.08 315.09,460.62 315.09,465.02 312.99,466.48 309.86,468.54 306.72,471.26 303.58,473.35 300.44,472.73 296.25,471.89 293.12,470.21 289.98,467.08 286.84,460.8 283.7,452.43 280.56,443.01 277.42,434.64 274.28,428.36 272.19,426.27 270.1,427.32 266.96,432.55 263.82,439.87 260.68,445.1 257.54,456.72 254.4,466.14 250.22,472 247.08,470.32 243.94,467.81 241.85,466.03 238.71,469.8 235.57,470.84 232.43,471.26 229.29,469.8 227.2,469.17 226.78,483.82" fill="rgba(240,150,158,0.36)"/>
<polygon points="227.2,466.2 229.29,468.3 231.39,470.39 234.53,469.76 237.66,469.13 240.8,465.84 242.9,464.38 244.99,465.84 247.71,467.1 250.22,467.04 253.36,461.39 256.5,453.02 259.64,446.12 262.77,441.51 265.91,435.23 269.05,422.32 271.77,414.99 274.28,420.23 276.38,427.55 279.51,439.42 282.65,447.79 285.79,456.16 288.93,463.48 292.07,467.67 296.25,469.76 300.44,470.81 303.58,471.85 306.72,470.81 309.86,469.13 312.99,466.47 315.09,465.84 315.09,469.84 312.99,470.47 309.86,470.73 306.72,472.41 303.58,473.45 300.44,472.41 296.25,471.36 292.07,469.27 288.93,465.08 285.79,457.76 282.65,449.39 279.51,441.02 276.38,436.15 274.28,428.83 271.77,423.59 269.05,430.92 265.91,436.83 262.77,443.11 259.64,447.72 256.5,454.62 253.36,462.99 250.22,468.64 247.71,471.1 244.99,469.84 242.9,468.38 240.8,469.84 237.66,470.73 234.53,471.36 231.39,471.99 229.29,469.9 227.2,467.8" fill="rgba(120,175,235,0.38)"/>
<polyline points="226.78,483.12 227.2,468.47 229.29,469.1 232.43,470.56 235.57,470.14 238.71,469.1 241.85,465.33 243.94,464.91 247.08,467.42 250.22,469.1 254.4,463.24 257.54,453.82 260.68,444.4 263.82,439.17 266.96,431.85 270.1,426.62 272.19,425.57 274.28,427.66 277.42,433.94 280.56,442.31 283.7,451.73 286.84,460.1 289.98,466.38 293.12,469.51 296.25,471.19 300.44,472.03 303.58,472.65 306.72,470.56 309.86,467.84 312.99,464.28 315.09,462.82" fill="none" stroke="#ec7c84" stroke-width="0.8" stroke-linejoin="round"/>
<polyline points="227.2,467 229.29,469.1 231.39,471.19 234.53,470.56 237.66,469.93 240.8,467.84 242.9,466.38 244.99,467.84 247.71,469.1 250.22,467.84 253.36,462.19 256.5,453.82 259.64,446.92 262.77,442.31 265.91,436.03 269.05,426.62 271.77,419.29 274.28,424.53 276.38,431.85 279.51,440.22 282.65,448.59 285.79,456.96 288.93,464.28 292.07,468.47 296.25,470.56 300.44,471.61 303.58,472.65 306.72,471.61 309.86,469.93 312.99,468.47 315.09,467.84" fill="none" stroke="#2f86e0" stroke-width="0.8" stroke-linejoin="round"/>
<text x="342" y="225" font-size="16" text-anchor="start" fill="#000" font-family='"Liberation Sans", Arial, sans-serif'>E.</text>
<defs><linearGradient id="g1" gradientUnits="userSpaceOnUse" x1="461.67" y1="264.58" x2="381.11" y2="391.62"><stop offset="0" stop-color="#0f78ee"/><stop offset="0.3" stop-color="#0f78ee"/><stop offset="0.95" stop-color="#6ec1c1"/></linearGradient><linearGradient id="g2" gradientUnits="userSpaceOnUse" x1="462.75" y1="264.23" x2="382.11" y2="398.15"><stop offset="0" stop-color="#0f78ee"/><stop offset="0.3" stop-color="#0f78ee"/><stop offset="0.95" stop-color="#d6acd6"/></linearGradient><linearGradient id="g3" gradientUnits="userSpaceOnUse" x1="463.82" y1="263.9" x2="383.52" y2="404.82"><stop offset="0" stop-color="#0f78ee"/><stop offset="0.3" stop-color="#0f78ee"/><stop offset="0.95" stop-color="#b6c182"/></linearGradient><linearGradient id="g4" gradientUnits="userSpaceOnUse" x1="464.9" y1="263.57" x2="385.13" y2="410.8"><stop offset="0" stop-color="#0f78ee"/><stop offset="0.3" stop-color="#0f78ee"/><stop offset="0.95" stop-color="#89b6e0"/></linearGradient><linearGradient id="g5" gradientUnits="userSpaceOnUse" x1="465.98" y1="263.26" x2="387.26" y2="417.27"><stop offset="0" stop-color="#0f78ee"/><stop offset="0.3" stop-color="#0f78ee"/><stop offset="0.95" stop-color="#e097a2"/></linearGradient><linearGradient id="g6" gradientUnits="userSpaceOnUse" x1="467.06" y1="262.95" x2="389.77" y2="423.6"><stop offset="0" stop-color="#0f78ee"/><stop offset="0.3" stop-color="#0f78ee"/><stop offset="0.95" stop-color="#6ec1c1"/></linearGradient><linearGradient id="g7" gradientUnits="userSpaceOnUse" x1="468.15" y1="262.66" x2="392.54" y2="429.6"><stop offset="0" stop-color="#0f78ee"/><stop offset="0.3" stop-color="#0f78ee"/><stop offset="0.95" stop-color="#c1ace0"/></linearGradient><linearGradient id="g8" gradientUnits="userSpaceOnUse" x1="469.23" y1="262.38" x2="395.74" y2="435.61"><stop offset="0" stop-color="#0f78ee"/><stop offset="0.3" stop-color="#0f78ee"/><stop offset="0.95" stop-color="#d6cb82"/></linearGradient><linearGradient id="g9" gradientUnits="userSpaceOnUse" x1="470.33" y1="262.1" x2="399.17" y2="441.26"><stop offset="0" stop-color="#0f78ee"/><stop offset="0.3" stop-color="#0f78ee"/><stop offset="0.95" stop-color="#6ec1cb"/></linearGradient><linearGradient id="g10" gradientUnits="userSpaceOnUse" x1="471.42" y1="261.84" x2="403.04" y2="446.87"><stop offset="0" stop-color="#0f78ee"/><stop offset="0.3" stop-color="#0f78ee"/><stop offset="0.95" stop-color="#e0a2c1"/></linearGradient><linearGradient id="g11" gradientUnits="userSpaceOnUse" x1="472.52" y1="261.59" x2="407.48" y2="452.57"><stop offset="0" stop-color="#0f78ee"/><stop offset="0.3" stop-color="#0f78ee"/><stop offset="0.95" stop-color="#a2c182"/></linearGradient><linearGradient id="g12" gradientUnits="userSpaceOnUse" x1="473.61" y1="261.35" x2="411.7" y2="457.38"><stop offset="0" stop-color="#0f78ee"/><stop offset="0.3" stop-color="#0f78ee"/><stop offset="0.95" stop-color="#c1ace0"/></linearGradient><linearGradient id="g13" gradientUnits="userSpaceOnUse" x1="474.71" y1="261.12" x2="416.17" y2="461.95"><stop offset="0" stop-color="#0f78ee"/><stop offset="0.3" stop-color="#0f78ee"/><stop offset="0.95" stop-color="#d6c1a2"/></linearGradient><linearGradient id="g14" gradientUnits="userSpaceOnUse" x1="412.16" y1="296.13" x2="497.47" y2="495.3"><stop offset="0" stop-color="#0f78ee"/><stop offset="0.3" stop-color="#0f78ee"/><stop offset="0.95" stop-color="#b8cce8"/></linearGradient><linearGradient id="g15" gradientUnits="userSpaceOnUse" x1="413.06" y1="295.18" x2="504.28" y2="495.16"><stop offset="0" stop-color="#0f78ee"/><stop offset="0.3" stop-color="#0f78ee"/><stop offset="0.95" stop-color="#e0a8a8"/></linearGradient><linearGradient id="g16" gradientUnits="userSpaceOnUse" x1="475.91" y1="260.88" x2="421.36" y2="466.69"><stop offset="0" stop-color="#0f78ee"/><stop offset="0.3" stop-color="#0f78ee"/><stop offset="0.95" stop-color="#6ec1c6"/></linearGradient><linearGradient id="g17" gradientUnits="userSpaceOnUse" x1="408.23" y1="300.54" x2="469.48" y2="491.69"><stop offset="0" stop-color="#0f78ee"/><stop offset="0.3" stop-color="#0f78ee"/><stop offset="0.95" stop-color="#c8b888"/></linearGradient><linearGradient id="g18" gradientUnits="userSpaceOnUse" x1="409.2" y1="299.4" x2="476.13" y2="493.17"><stop offset="0" stop-color="#0f78ee"/><stop offset="0.3" stop-color="#0f78ee"/><stop offset="0.95" stop-color="#20a0c0"/></linearGradient><linearGradient id="g19" gradientUnits="userSpaceOnUse" x1="410.19" y1="298.28" x2="483.06" y2="494.29"><stop offset="0" stop-color="#0f78ee"/><stop offset="0.3" stop-color="#0f78ee"/><stop offset="0.95" stop-color="#d070a0"/></linearGradient><linearGradient id="g20" gradientUnits="userSpaceOnUse" x1="411.2" y1="297.17" x2="490.25" y2="495.01"><stop offset="0" stop-color="#0f78ee"/><stop offset="0.3" stop-color="#0f78ee"/><stop offset="0.95" stop-color="#3a8a3a"/></linearGradient><linearGradient id="g21" gradientUnits="userSpaceOnUse" x1="477.29" y1="260.62" x2="426.98" y2="471.23"><stop offset="0" stop-color="#0f78ee"/><stop offset="0.3" stop-color="#0f78ee"/><stop offset="0.95" stop-color="#d697cb"/></linearGradient><linearGradient id="g22" gradientUnits="userSpaceOnUse" x1="478.86" y1="260.34" x2="432.18" y2="474.96"><stop offset="0" stop-color="#0f78ee"/><stop offset="0.3" stop-color="#0f78ee"/><stop offset="0.95" stop-color="#c1c178"/></linearGradient><linearGradient id="g23" gradientUnits="userSpaceOnUse" x1="397.8" y1="314.91" x2="612.44" y2="345.19"><stop offset="0" stop-color="#f35a60"/><stop offset="0.08" stop-color="#f35a60"/><stop offset="0.7" stop-color="#4f9a3a"/></linearGradient><linearGradient id="g24" gradientUnits="userSpaceOnUse" x1="401.49" y1="309.29" x2="616.11" y2="364.22"><stop offset="0" stop-color="#f35a60"/><stop offset="0.08" stop-color="#f35a60"/><stop offset="0.7" stop-color="#1a9bb0"/></linearGradient><linearGradient id="g25" gradientUnits="userSpaceOnUse" x1="402.54" y1="307.82" x2="616.69" y2="371.84"><stop offset="0" stop-color="#f35a60"/><stop offset="0.08" stop-color="#f35a60"/><stop offset="0.7" stop-color="#9a8a30"/></linearGradient><linearGradient id="g26" gradientUnits="userSpaceOnUse" x1="403.6" y1="306.36" x2="616.78" y2="379.06"><stop offset="0" stop-color="#f35a60"/><stop offset="0.08" stop-color="#f35a60"/><stop offset="0.7" stop-color="#8a60d0"/></linearGradient><linearGradient id="g27" gradientUnits="userSpaceOnUse" x1="480.71" y1="260.04" x2="438.1" y2="478.72"><stop offset="0" stop-color="#0f78ee"/><stop offset="0.3" stop-color="#0f78ee"/><stop offset="0.95" stop-color="#2a8ad0"/></linearGradient><linearGradient id="g28" gradientUnits="userSpaceOnUse" x1="395.83" y1="318.23" x2="607.48" y2="330.97"><stop offset="0" stop-color="#f35a60"/><stop offset="0.08" stop-color="#f35a60"/><stop offset="0.7" stop-color="#c0783a"/></linearGradient><linearGradient id="g29" gradientUnits="userSpaceOnUse" x1="396.83" y1="316.53" x2="610.15" y2="337.9"><stop offset="0" stop-color="#f35a60"/><stop offset="0.08" stop-color="#f35a60"/><stop offset="0.7" stop-color="#3a6fd0"/></linearGradient><linearGradient id="g30" gradientUnits="userSpaceOnUse" x1="414.36" y1="293.84" x2="511.48" y2="494.59"><stop offset="0" stop-color="#0f78ee"/><stop offset="0.3" stop-color="#0f78ee"/><stop offset="0.95" stop-color="#1a9a80"/></linearGradient><linearGradient id="g31" gradientUnits="userSpaceOnUse" x1="416.16" y1="292.06" x2="519.86" y2="493.36"><stop offset="0" stop-color="#0f78ee"/><stop offset="0.3" stop-color="#0f78ee"/><stop offset="0.95" stop-color="#9050c0"/></linearGradient><linearGradient id="g32" gradientUnits="userSpaceOnUse" x1="418.14" y1="290.19" x2="527.92" y2="491.58"><stop offset="0" stop-color="#0f78ee"/><stop offset="0.3" stop-color="#0f78ee"/><stop offset="0.95" stop-color="#8a8a20"/></linearGradient><linearGradient id="g33" gradientUnits="userSpaceOnUse" x1="420.22" y1="288.3" x2="536.62" y2="488.99"><stop offset="0" stop-color="#0f78ee"/><stop offset="0.3" stop-color="#0f78ee"/><stop offset="0.95" stop-color="#1a88cc"/></linearGradient><linearGradient id="g34" gradientUnits="userSpaceOnUse" x1="483.13" y1="259.7" x2="444.79" y2="482.41"><stop offset="0" stop-color="#0f78ee"/><stop offset="0.3" stop-color="#0f78ee"/><stop offset="0.95" stop-color="#c83040"/></linearGradient><linearGradient id="g35" gradientUnits="userSpaceOnUse" x1="394.67" y1="320.3" x2="604.09" y2="323.66"><stop offset="0" stop-color="#f35a60"/><stop offset="0.08" stop-color="#f35a60"/><stop offset="0.7" stop-color="#17958b"/></linearGradient><linearGradient id="g36" gradientUnits="userSpaceOnUse" x1="422.5" y1="286.34" x2="545.1" y2="485.73"><stop offset="0" stop-color="#0f78ee"/><stop offset="0.3" stop-color="#0f78ee"/><stop offset="0.95" stop-color="#c02a50"/></linearGradient><linearGradient id="g37" gradientUnits="userSpaceOnUse" x1="393.29" y1="322.91" x2="600.01" y2="316.25"><stop offset="0" stop-color="#f35a60"/><stop offset="0.08" stop-color="#f35a60"/><stop offset="0.7" stop-color="#4d4d4d"/></linearGradient><linearGradient id="g38" gradientUnits="userSpaceOnUse" x1="391.87" y1="325.78" x2="595.05" y2="308.64"><stop offset="0" stop-color="#f35a60"/><stop offset="0.08" stop-color="#f35a60"/><stop offset="0.7" stop-color="#9b45b0"/></linearGradient><linearGradient id="g39" gradientUnits="userSpaceOnUse" x1="425.19" y1="284.16" x2="553.49" y2="481.74"><stop offset="0" stop-color="#0f78ee"/><stop offset="0.3" stop-color="#0f78ee"/><stop offset="0.95" stop-color="#1a8a4a"/></linearGradient><linearGradient id="g40" gradientUnits="userSpaceOnUse" x1="486.38" y1="259.32" x2="452.09" y2="485.81"><stop offset="0" stop-color="#0f78ee"/><stop offset="0.3" stop-color="#0f78ee"/><stop offset="0.95" stop-color="#1a8a50"/></linearGradient><linearGradient id="g41" gradientUnits="userSpaceOnUse" x1="390.45" y1="328.83" x2="589.39" y2="301.28"><stop offset="0" stop-color="#f35a60"/><stop offset="0.08" stop-color="#f35a60"/><stop offset="0.7" stop-color="#d0453c"/></linearGradient><linearGradient id="g42" gradientUnits="userSpaceOnUse" x1="389.06" y1="332.07" x2="583.31" y2="294.53"><stop offset="0" stop-color="#f35a60"/><stop offset="0.08" stop-color="#f35a60"/><stop offset="0.7" stop-color="#5b2f70"/></linearGradient><linearGradient id="g43" gradientUnits="userSpaceOnUse" x1="387.69" y1="335.58" x2="575.64" y2="287.31"><stop offset="0" stop-color="#f35a60"/><stop offset="0.08" stop-color="#f35a60"/><stop offset="0.7" stop-color="#1b8a4e"/></linearGradient><linearGradient id="g44" gradientUnits="userSpaceOnUse" x1="428.47" y1="281.66" x2="561.89" y2="476.88"><stop offset="0" stop-color="#0f78ee"/><stop offset="0.3" stop-color="#0f78ee"/><stop offset="0.95" stop-color="#5a50d0"/></linearGradient><linearGradient id="g45" gradientUnits="userSpaceOnUse" x1="386.34" y1="339.37" x2="567.37" y2="280.81"><stop offset="0" stop-color="#f35a60"/><stop offset="0.08" stop-color="#f35a60"/><stop offset="0.7" stop-color="#58329a"/></linearGradient><linearGradient id="g46" gradientUnits="userSpaceOnUse" x1="490.59" y1="258.96" x2="461.35" y2="489.32"><stop offset="0" stop-color="#0f78ee"/><stop offset="0.3" stop-color="#0f78ee"/><stop offset="0.95" stop-color="#7050c8"/></linearGradient><linearGradient id="g47" gradientUnits="userSpaceOnUse" x1="385.08" y1="343.36" x2="558.19" y2="274.86"><stop offset="0" stop-color="#f35a60"/><stop offset="0.08" stop-color="#f35a60"/><stop offset="0.7" stop-color="#e87810"/></linearGradient><linearGradient id="g48" gradientUnits="userSpaceOnUse" x1="432.3" y1="278.96" x2="570.84" y2="470.6"><stop offset="0" stop-color="#0f78ee"/><stop offset="0.3" stop-color="#0f78ee"/><stop offset="0.95" stop-color="#a06020"/></linearGradient><linearGradient id="g49" gradientUnits="userSpaceOnUse" x1="383.92" y1="347.55" x2="548.31" y2="269.7"><stop offset="0" stop-color="#f35a60"/><stop offset="0.08" stop-color="#f35a60"/><stop offset="0.7" stop-color="#26a59e"/></linearGradient><linearGradient id="g50" gradientUnits="userSpaceOnUse" x1="436.48" y1="276.26" x2="579.63" y2="463.1"><stop offset="0" stop-color="#0f78ee"/><stop offset="0.3" stop-color="#0f78ee"/><stop offset="0.95" stop-color="#15909a"/></linearGradient><linearGradient id="g51" gradientUnits="userSpaceOnUse" x1="382.88" y1="351.94" x2="537.21" y2="265.21"><stop offset="0" stop-color="#f35a60"/><stop offset="0.08" stop-color="#f35a60"/><stop offset="0.7" stop-color="#8e1f63"/></linearGradient><linearGradient id="g52" gradientUnits="userSpaceOnUse" x1="380.69" y1="366.28" x2="501.8" y2="258.75"><stop offset="0" stop-color="#f35a60"/><stop offset="0.08" stop-color="#f35a60"/><stop offset="0.7" stop-color="#1f5a8c"/></linearGradient><linearGradient id="g53" gradientUnits="userSpaceOnUse" x1="441" y1="273.61" x2="588.19" y2="454.14"><stop offset="0" stop-color="#0f78ee"/><stop offset="0.3" stop-color="#0f78ee"/><stop offset="0.95" stop-color="#c040a8"/></linearGradient><linearGradient id="g54" gradientUnits="userSpaceOnUse" x1="381.22" y1="361.47" x2="513.33" y2="259.63"><stop offset="0" stop-color="#f35a60"/><stop offset="0.08" stop-color="#f35a60"/><stop offset="0.7" stop-color="#eaa41c"/></linearGradient><linearGradient id="g55" gradientUnits="userSpaceOnUse" x1="381.97" y1="356.61" x2="525.51" y2="261.83"><stop offset="0" stop-color="#f35a60"/><stop offset="0.08" stop-color="#f35a60"/><stop offset="0.7" stop-color="#66b23c"/></linearGradient><linearGradient id="g56" gradientUnits="userSpaceOnUse" x1="399.61" y1="312.07" x2="614.59" y2="354.22"><stop offset="0" stop-color="#f35a60"/><stop offset="0.08" stop-color="#f35a60"/><stop offset="0.7" stop-color="#c0408a"/></linearGradient><linearGradient id="g57" gradientUnits="userSpaceOnUse" x1="445.98" y1="271" x2="596.23" y2="443.67"><stop offset="0" stop-color="#0f78ee"/><stop offset="0.3" stop-color="#0f78ee"/><stop offset="0.95" stop-color="#4f8a2a"/></linearGradient><linearGradient id="g58" gradientUnits="userSpaceOnUse" x1="451.51" y1="268.43" x2="603.53" y2="431.44"><stop offset="0" stop-color="#0f78ee"/><stop offset="0.3" stop-color="#0f78ee"/><stop offset="0.95" stop-color="#1a70d0"/></linearGradient><linearGradient id="g59" gradientUnits="userSpaceOnUse" x1="457.78" y1="265.93" x2="609.81" y2="417.07"><stop offset="0" stop-color="#0f78ee"/><stop offset="0.3" stop-color="#0f78ee"/><stop offset="0.95" stop-color="#c0453c"/></linearGradient><linearGradient id="g60" gradientUnits="userSpaceOnUse" x1="380.2" y1="376.85" x2="615.14" y2="396.73"><stop offset="0" stop-color="#f35a60"/><stop offset="0.08" stop-color="#f35a60"/><stop offset="0.7" stop-color="#178a5c"/></linearGradient></defs>
<path d="M461.14,264.75 A118.3,118.3 0 0 1 462.21,264.4 Q498.5,377 381.19,392.24 A118.3,118.3 0 0 1 381.03,391.01 Q498.5,377 461.14,264.75Z" fill="url(#g1)" fill-opacity="0.7" stroke="#fff" stroke-width="0.25" stroke-opacity="0.5"/>
<path d="M462.21,264.4 A118.3,118.3 0 0 1 463.28,264.06 Q498.5,377 382.22,398.76 A118.3,118.3 0 0 1 382,397.54 Q498.5,377 462.21,264.4Z" fill="url(#g2)" fill-opacity="0.7" stroke="#fff" stroke-width="0.25" stroke-opacity="0.5"/>
<path d="M463.28,264.06 A118.3,118.3 0 0 1 464.36,263.73 Q498.5,377 383.66,405.42 A118.3,118.3 0 0 1 383.37,404.21 Q498.5,377 463.28,264.06Z" fill="url(#g3)" fill-opacity="0.7" stroke="#fff" stroke-width="0.25" stroke-opacity="0.5"/>
<path d="M464.36,263.73 A118.3,118.3 0 0 1 465.44,263.41 Q498.5,377 385.31,411.39 A118.3,118.3 0 0 1 384.96,410.2 Q498.5,377 464.36,263.73Z" fill="url(#g4)" fill-opacity="0.7" stroke="#fff" stroke-width="0.25" stroke-opacity="0.5"/>
<path d="M465.44,263.41 A118.3,118.3 0 0 1 466.52,263.11 Q498.5,377 387.48,417.85 A118.3,118.3 0 0 1 387.05,416.68 Q498.5,377 465.44,263.41Z" fill="url(#g5)" fill-opacity="0.7" stroke="#fff" stroke-width="0.25" stroke-opacity="0.5"/>
<path d="M466.52,263.11 A118.3,118.3 0 0 1 467.6,262.81 Q498.5,377 390.01,424.17 A118.3,118.3 0 0 1 389.52,423.03 Q498.5,377 466.52,263.11Z" fill="url(#g6)" fill-opacity="0.7" stroke="#fff" stroke-width="0.25" stroke-opacity="0.5"/>
<path d="M467.6,262.81 A118.3,118.3 0 0 1 468.69,262.52 Q498.5,377 392.81,430.15 A118.3,118.3 0 0 1 392.26,429.04 Q498.5,377 467.6,262.81Z" fill="url(#g7)" fill-opacity="0.7" stroke="#fff" stroke-width="0.25" stroke-opacity="0.5"/>
<path d="M468.69,262.52 A118.3,118.3 0 0 1 469.78,262.24 Q498.5,377 396.05,436.15 A118.3,118.3 0 0 1 395.44,435.07 Q498.5,377 468.69,262.52Z" fill="url(#g8)" fill-opacity="0.7" stroke="#fff" stroke-width="0.25" stroke-opacity="0.5"/>
<path d="M469.78,262.24 A118.3,118.3 0 0 1 470.87,261.97 Q498.5,377 399.51,441.78 A118.3,118.3 0 0 1 398.84,440.74 Q498.5,377 469.78,262.24Z" fill="url(#g9)" fill-opacity="0.7" stroke="#fff" stroke-width="0.25" stroke-opacity="0.5"/>
<path d="M470.87,261.97 A118.3,118.3 0 0 1 471.97,261.71 Q498.5,377 403.4,447.37 A118.3,118.3 0 0 1 402.67,446.37 Q498.5,377 470.87,261.97Z" fill="url(#g10)" fill-opacity="0.7" stroke="#fff" stroke-width="0.25" stroke-opacity="0.5"/>
<path d="M471.97,261.71 A118.3,118.3 0 0 1 473.06,261.47 Q498.5,377 407.88,453.04 A118.3,118.3 0 0 1 407.09,452.09 Q498.5,377 471.97,261.71Z" fill="url(#g11)" fill-opacity="0.7" stroke="#fff" stroke-width="0.25" stroke-opacity="0.5"/>
<path d="M473.06,261.47 A118.3,118.3 0 0 1 474.16,261.23 Q498.5,377 412.12,457.83 A118.3,118.3 0 0 1 411.28,456.92 Q498.5,377 473.06,261.47Z" fill="url(#g12)" fill-opacity="0.7" stroke="#fff" stroke-width="0.25" stroke-opacity="0.5"/>
<path d="M474.16,261.23 A118.3,118.3 0 0 1 475.27,261 Q498.5,377 416.62,462.38 A118.3,118.3 0 0 1 415.73,461.52 Q498.5,377 474.16,261.23Z" fill="url(#g13)" fill-opacity="0.7" stroke="#fff" stroke-width="0.25" stroke-opacity="0.5"/>
<path d="M411.71,296.61 A118.3,118.3 0 0 1 412.6,295.66 Q498.5,377 498.19,495.3 A118.3,118.3 0 0 1 496.75,495.29 Q498.5,377 411.71,296.61Z" fill="url(#g14)" fill-opacity="0.7" stroke="#fff" stroke-width="0.25" stroke-opacity="0.5"/>
<path d="M412.6,295.66 A118.3,118.3 0 0 1 413.51,294.71 Q498.5,377 505,495.12 A118.3,118.3 0 0 1 503.56,495.19 Q498.5,377 412.6,295.66Z" fill="url(#g15)" fill-opacity="0.7" stroke="#fff" stroke-width="0.25" stroke-opacity="0.5"/>
<path d="M475.27,261 A118.3,118.3 0 0 1 476.55,260.75 Q498.5,377 421.91,467.16 A118.3,118.3 0 0 1 420.81,466.21 Q498.5,377 475.27,261Z" fill="url(#g16)" fill-opacity="0.7" stroke="#fff" stroke-width="0.25" stroke-opacity="0.5"/>
<path d="M407.74,301.12 A118.3,118.3 0 0 1 408.71,299.97 Q498.5,377 470.28,491.89 A118.3,118.3 0 0 1 468.68,491.48 Q498.5,377 407.74,301.12Z" fill="url(#g17)" fill-opacity="0.7" stroke="#fff" stroke-width="0.25" stroke-opacity="0.5"/>
<path d="M408.71,299.97 A118.3,118.3 0 0 1 409.7,298.84 Q498.5,377 476.94,493.32 A118.3,118.3 0 0 1 475.32,493.01 Q498.5,377 408.71,299.97Z" fill="url(#g18)" fill-opacity="0.7" stroke="#fff" stroke-width="0.25" stroke-opacity="0.5"/>
<path d="M409.7,298.84 A118.3,118.3 0 0 1 410.7,297.72 Q498.5,377 483.88,494.39 A118.3,118.3 0 0 1 482.24,494.18 Q498.5,377 409.7,298.84Z" fill="url(#g19)" fill-opacity="0.7" stroke="#fff" stroke-width="0.25" stroke-opacity="0.5"/>
<path d="M410.7,297.72 A118.3,118.3 0 0 1 411.71,296.61 Q498.5,377 491.07,495.07 A118.3,118.3 0 0 1 489.42,494.95 Q498.5,377 410.7,297.72Z" fill="url(#g20)" fill-opacity="0.7" stroke="#fff" stroke-width="0.25" stroke-opacity="0.5"/>
<path d="M476.55,260.75 A118.3,118.3 0 0 1 478.03,260.48 Q498.5,377 427.64,471.73 A118.3,118.3 0 0 1 426.32,470.73 Q498.5,377 476.55,260.75Z" fill="url(#g21)" fill-opacity="0.7" stroke="#fff" stroke-width="0.25" stroke-opacity="0.5"/>
<path d="M478.03,260.48 A118.3,118.3 0 0 1 479.69,260.2 Q498.5,377 432.95,475.48 A118.3,118.3 0 0 1 431.41,474.44 Q498.5,377 478.03,260.48Z" fill="url(#g22)" fill-opacity="0.7" stroke="#fff" stroke-width="0.25" stroke-opacity="0.5"/>
<path d="M397.33,315.68 A118.3,118.3 0 0 1 398.28,314.15 Q498.5,377 612.13,344.09 A118.3,118.3 0 0 1 612.74,346.28 Q498.5,377 397.33,315.68Z" fill="url(#g23)" fill-opacity="0.78" stroke="#fff" stroke-width="0.25" stroke-opacity="0.5"/>
<path d="M400.98,310.03 A118.3,118.3 0 0 1 402.01,308.55 Q498.5,377 615.98,363.1 A118.3,118.3 0 0 1 616.23,365.35 Q498.5,377 400.98,310.03Z" fill="url(#g24)" fill-opacity="0.78" stroke="#fff" stroke-width="0.25" stroke-opacity="0.5"/>
<path d="M402.01,308.55 A118.3,118.3 0 0 1 403.07,307.09 Q498.5,377 616.63,370.71 A118.3,118.3 0 0 1 616.73,372.97 Q498.5,377 402.01,308.55Z" fill="url(#g25)" fill-opacity="0.78" stroke="#fff" stroke-width="0.25" stroke-opacity="0.5"/>
<path d="M403.07,307.09 A118.3,118.3 0 0 1 404.15,305.64 Q498.5,377 616.8,377.93 A118.3,118.3 0 0 1 616.76,380.2 Q498.5,377 403.07,307.09Z" fill="url(#g26)" fill-opacity="0.78" stroke="#fff" stroke-width="0.25" stroke-opacity="0.5"/>
<path d="M479.69,260.2 A118.3,118.3 0 0 1 481.73,259.89 Q498.5,377 439.08,479.3 A118.3,118.3 0 0 1 437.13,478.14 Q498.5,377 479.69,260.2Z" fill="url(#g27)" fill-opacity="0.78" stroke="#fff" stroke-width="0.25" stroke-opacity="0.5"/>
<path d="M395.35,319.08 A118.3,118.3 0 0 1 396.33,317.37 Q498.5,377 606.99,329.83 A118.3,118.3 0 0 1 607.95,332.11 Q498.5,377 395.35,319.08Z" fill="url(#g28)" fill-opacity="0.78" stroke="#fff" stroke-width="0.25" stroke-opacity="0.5"/>
<path d="M396.33,317.37 A118.3,118.3 0 0 1 397.33,315.68 Q498.5,377 609.74,336.73 A118.3,118.3 0 0 1 610.55,339.07 Q498.5,377 396.33,317.37Z" fill="url(#g29)" fill-opacity="0.78" stroke="#fff" stroke-width="0.25" stroke-opacity="0.5"/>
<path d="M413.51,294.71 A118.3,118.3 0 0 1 415.23,292.97 Q498.5,377 512.81,494.43 A118.3,118.3 0 0 1 510.15,494.73 Q498.5,377 413.51,294.71Z" fill="url(#g30)" fill-opacity="0.78" stroke="#fff" stroke-width="0.25" stroke-opacity="0.5"/>
<path d="M415.23,292.97 A118.3,118.3 0 0 1 417.11,291.15 Q498.5,377 521.28,493.09 A118.3,118.3 0 0 1 518.43,493.61 Q498.5,377 415.23,292.97Z" fill="url(#g31)" fill-opacity="0.78" stroke="#fff" stroke-width="0.25" stroke-opacity="0.5"/>
<path d="M417.11,291.15 A118.3,118.3 0 0 1 419.17,289.24 Q498.5,377 529.42,491.19 A118.3,118.3 0 0 1 526.42,491.96 Q498.5,377 417.11,291.15Z" fill="url(#g32)" fill-opacity="0.78" stroke="#fff" stroke-width="0.25" stroke-opacity="0.5"/>
<path d="M419.17,289.24 A118.3,118.3 0 0 1 421.28,287.38 Q498.5,377 538.09,488.48 A118.3,118.3 0 0 1 535.15,489.48 Q498.5,377 419.17,289.24Z" fill="url(#g33)" fill-opacity="0.78" stroke="#fff" stroke-width="0.25" stroke-opacity="0.5"/>
<path d="M481.73,259.89 A118.3,118.3 0 0 1 484.52,259.53 Q498.5,377 446.18,483.1 A118.3,118.3 0 0 1 443.42,481.69 Q498.5,377 481.73,259.89Z" fill="url(#g34)" fill-opacity="0.78" stroke="#fff" stroke-width="0.25" stroke-opacity="0.5"/>
<path d="M394.01,321.53 A118.3,118.3 0 0 1 395.35,319.08 Q498.5,377 603.29,322.1 A118.3,118.3 0 0 1 604.87,325.23 Q498.5,377 394.01,321.53Z" fill="url(#g35)" fill-opacity="0.78" stroke="#fff" stroke-width="0.25" stroke-opacity="0.5"/>
<path d="M421.28,287.38 A118.3,118.3 0 0 1 423.73,285.33 Q498.5,377 546.71,485.03 A118.3,118.3 0 0 1 543.49,486.41 Q498.5,377 421.28,287.38Z" fill="url(#g36)" fill-opacity="0.78" stroke="#fff" stroke-width="0.25" stroke-opacity="0.5"/>
<path d="M392.59,324.3 A118.3,118.3 0 0 1 394.01,321.53 Q498.5,377 598.99,314.57 A118.3,118.3 0 0 1 601,317.94 Q498.5,377 392.59,324.3Z" fill="url(#g37)" fill-opacity="0.78" stroke="#fff" stroke-width="0.25" stroke-opacity="0.5"/>
<path d="M391.17,327.26 A118.3,118.3 0 0 1 392.59,324.3 Q498.5,377 593.84,306.96 A118.3,118.3 0 0 1 596.23,310.33 Q498.5,377 391.17,327.26Z" fill="url(#g38)" fill-opacity="0.78" stroke="#fff" stroke-width="0.25" stroke-opacity="0.5"/>
<path d="M423.73,285.33 A118.3,118.3 0 0 1 426.67,283 Q498.5,377 555.31,480.77 A118.3,118.3 0 0 1 551.65,482.69 Q498.5,377 423.73,285.33Z" fill="url(#g39)" fill-opacity="0.78" stroke="#fff" stroke-width="0.25" stroke-opacity="0.5"/>
<path d="M484.52,259.53 A118.3,118.3 0 0 1 488.25,259.14 Q498.5,377 453.99,486.61 A118.3,118.3 0 0 1 450.19,484.99 Q498.5,377 484.52,259.53Z" fill="url(#g40)" fill-opacity="0.78" stroke="#fff" stroke-width="0.25" stroke-opacity="0.5"/>
<path d="M389.76,330.41 A118.3,118.3 0 0 1 391.17,327.26 Q498.5,377 587.99,299.62 A118.3,118.3 0 0 1 590.76,302.95 Q498.5,377 389.76,330.41Z" fill="url(#g41)" fill-opacity="0.78" stroke="#fff" stroke-width="0.25" stroke-opacity="0.5"/>
<path d="M388.39,333.74 A118.3,118.3 0 0 1 389.76,330.41 Q498.5,377 581.71,292.91 A118.3,118.3 0 0 1 584.88,296.17 Q498.5,377 388.39,333.74Z" fill="url(#g42)" fill-opacity="0.78" stroke="#fff" stroke-width="0.25" stroke-opacity="0.5"/>
<path d="M387.01,337.43 A118.3,118.3 0 0 1 388.39,333.74 Q498.5,377 573.75,285.72 A118.3,118.3 0 0 1 577.5,288.95 Q498.5,377 387.01,337.43Z" fill="url(#g43)" fill-opacity="0.78" stroke="#fff" stroke-width="0.25" stroke-opacity="0.5"/>
<path d="M426.67,283 A118.3,118.3 0 0 1 430.29,280.34 Q498.5,377 563.97,475.53 A118.3,118.3 0 0 1 559.78,478.19 Q498.5,377 426.67,283Z" fill="url(#g44)" fill-opacity="0.78" stroke="#fff" stroke-width="0.25" stroke-opacity="0.5"/>
<path d="M385.71,341.32 A118.3,118.3 0 0 1 387.01,337.43 Q498.5,377 565.25,279.33 A118.3,118.3 0 0 1 569.45,282.34 Q498.5,377 385.71,341.32Z" fill="url(#g45)" fill-opacity="0.78" stroke="#fff" stroke-width="0.25" stroke-opacity="0.5"/>
<path d="M488.25,259.14 A118.3,118.3 0 0 1 492.93,258.83 Q498.5,377 463.81,490.1 A118.3,118.3 0 0 1 458.91,488.48 Q498.5,377 488.25,259.14Z" fill="url(#g46)" fill-opacity="0.78" stroke="#fff" stroke-width="0.25" stroke-opacity="0.5"/>
<path d="M384.5,345.41 A118.3,118.3 0 0 1 385.71,341.32 Q498.5,377 555.85,273.53 A118.3,118.3 0 0 1 560.49,276.24 Q498.5,377 384.5,345.41Z" fill="url(#g47)" fill-opacity="0.78" stroke="#fff" stroke-width="0.25" stroke-opacity="0.5"/>
<path d="M430.29,280.34 A118.3,118.3 0 0 1 434.33,277.61 Q498.5,377 572.95,468.94 A118.3,118.3 0 0 1 568.7,472.22 Q498.5,377 430.29,280.34Z" fill="url(#g48)" fill-opacity="0.78" stroke="#fff" stroke-width="0.25" stroke-opacity="0.5"/>
<path d="M383.39,349.7 A118.3,118.3 0 0 1 384.5,345.41 Q498.5,377 545.77,268.55 A118.3,118.3 0 0 1 550.82,270.9 Q498.5,377 383.39,349.7Z" fill="url(#g49)" fill-opacity="0.78" stroke="#fff" stroke-width="0.25" stroke-opacity="0.5"/>
<path d="M434.33,277.61 A118.3,118.3 0 0 1 438.64,274.96 Q498.5,377 581.64,461.16 A118.3,118.3 0 0 1 577.58,464.98 Q498.5,377 434.33,277.61Z" fill="url(#g50)" fill-opacity="0.78" stroke="#fff" stroke-width="0.25" stroke-opacity="0.5"/>
<path d="M382.42,354.19 A118.3,118.3 0 0 1 383.39,349.7 Q498.5,377 534.47,264.3 A118.3,118.3 0 0 1 539.93,266.19 Q498.5,377 382.42,354.19Z" fill="url(#g51)" fill-opacity="0.78" stroke="#fff" stroke-width="0.25" stroke-opacity="0.5"/>
<path d="M380.49,368.65 A118.3,118.3 0 0 1 380.93,363.92 Q498.5,377 498.81,258.7 A118.3,118.3 0 0 1 504.79,258.87 Q498.5,377 380.49,368.65Z" fill="url(#g52)" fill-opacity="0.78" stroke="#fff" stroke-width="0.25" stroke-opacity="0.5"/>
<path d="M438.64,274.96 A118.3,118.3 0 0 1 443.4,272.32 Q498.5,377 590.11,451.85 A118.3,118.3 0 0 1 586.21,456.39 Q498.5,377 438.64,274.96Z" fill="url(#g53)" fill-opacity="0.78" stroke="#fff" stroke-width="0.25" stroke-opacity="0.5"/>
<path d="M380.93,363.92 A118.3,118.3 0 0 1 381.57,359.04 Q498.5,377 510.25,259.28 A118.3,118.3 0 0 1 516.39,260.06 Q498.5,377 380.93,363.92Z" fill="url(#g54)" fill-opacity="0.78" stroke="#fff" stroke-width="0.25" stroke-opacity="0.5"/>
<path d="M381.57,359.04 A118.3,118.3 0 0 1 382.42,354.19 Q498.5,377 522.49,261.16 A118.3,118.3 0 0 1 528.52,262.57 Q498.5,377 381.57,359.04Z" fill="url(#g55)" fill-opacity="0.78" stroke="#fff" stroke-width="0.25" stroke-opacity="0.5"/>
<path d="M398.28,314.15 A118.3,118.3 0 0 1 400.98,310.03 Q498.5,377 613.95,351.19 A118.3,118.3 0 0 1 615.14,357.27 Q498.5,377 398.28,314.15Z" fill="url(#g56)" fill-opacity="0.78" stroke="#fff" stroke-width="0.25" stroke-opacity="0.5"/>
<path d="M443.4,272.32 A118.3,118.3 0 0 1 448.6,269.74 Q498.5,377 597.99,441 A118.3,118.3 0 0 1 594.39,446.28 Q498.5,377 443.4,272.32Z" fill="url(#g57)" fill-opacity="0.78" stroke="#fff" stroke-width="0.25" stroke-opacity="0.5"/>
<path d="M448.6,269.74 A118.3,118.3 0 0 1 454.45,267.21 Q498.5,377 605.1,428.3 A118.3,118.3 0 0 1 601.87,434.53 Q498.5,377 448.6,269.74Z" fill="url(#g58)" fill-opacity="0.78" stroke="#fff" stroke-width="0.25" stroke-opacity="0.5"/>
<path d="M454.45,267.21 A118.3,118.3 0 0 1 461.14,264.75 Q498.5,377 611.07,413.36 A118.3,118.3 0 0 1 608.42,420.74 Q498.5,377 454.45,267.21Z" fill="url(#g59)" fill-opacity="0.78" stroke="#fff" stroke-width="0.25" stroke-opacity="0.5"/>
<path d="M380.47,385.05 A118.3,118.3 0 0 1 380.49,368.65 Q498.5,377 616.42,386.49 A118.3,118.3 0 0 1 612.98,406.82 Q498.5,377 380.47,385.05Z" fill="url(#g60)" fill-opacity="0.78" stroke="#fff" stroke-width="0.25" stroke-opacity="0.5"/>
<path d="M498.83,250.6 A126.4,126.4 0 0 1 505.23,250.78 L504.88,257.17 A120,120 0 0 0 498.81,257Z" fill="#1f5a8c"/>
<path d="M511.05,251.22 A126.4,126.4 0 0 1 517.62,252.05 L516.65,258.38 A120,120 0 0 0 510.42,257.59Z" fill="#eaa41c"/>
<path d="M524.13,253.23 A126.4,126.4 0 0 1 530.58,254.74 L528.95,260.93 A120,120 0 0 0 522.83,259.49Z" fill="#66b23c"/>
<path d="M536.93,256.58 A126.4,126.4 0 0 1 542.77,258.6 L540.52,264.6 A120,120 0 0 0 534.98,262.68Z" fill="#8e1f63"/>
<path d="M549,261.13 A126.4,126.4 0 0 1 554.41,263.64 L551.57,269.38 A120,120 0 0 0 546.45,266.99Z" fill="#26a59e"/>
<path d="M559.78,266.45 A126.4,126.4 0 0 1 564.73,269.34 L561.38,274.79 A120,120 0 0 0 556.68,272.05Z" fill="#e87810"/>
<path d="M569.82,272.64 A126.4,126.4 0 0 1 574.3,275.85 L570.47,280.98 A120,120 0 0 0 566.21,277.93Z" fill="#58329a"/>
<path d="M578.9,279.47 A126.4,126.4 0 0 1 582.91,282.92 L578.64,287.68 A120,120 0 0 0 574.83,284.41Z" fill="#1b8a4e"/>
<path d="M587.41,287.15 A126.4,126.4 0 0 1 590.79,290.63 L586.12,295.01 A120,120 0 0 0 582.91,291.7Z" fill="#5b2f70"/>
<path d="M594.11,294.32 A126.4,126.4 0 0 1 597.08,297.88 L592.09,301.89 A120,120 0 0 0 589.27,298.51Z" fill="#d0453c"/>
<path d="M600.37,302.17 A126.4,126.4 0 0 1 602.92,305.77 L597.63,309.38 A120,120 0 0 0 595.21,305.96Z" fill="#9b45b0"/>
<path d="M605.87,310.3 A126.4,126.4 0 0 1 608.02,313.9 L602.48,317.09 A120,120 0 0 0 600.43,313.68Z" fill="#4d4d4d"/>
<path d="M610.46,318.34 A126.4,126.4 0 0 1 612.16,321.69 L606.4,324.49 A120,120 0 0 0 604.8,321.31Z" fill="#17958b"/>
<path d="M614.42,326.6 A126.4,126.4 0 0 1 615.45,329.04 L609.53,331.47 A120,120 0 0 0 608.55,329.15Z" fill="#c0783a"/>
<path d="M617.35,333.98 A126.4,126.4 0 0 1 618.23,336.47 L612.17,338.53 A120,120 0 0 0 611.33,336.15Z" fill="#3a6fd0"/>
<path d="M619.91,341.84 A126.4,126.4 0 0 1 620.56,344.18 L614.38,345.84 A120,120 0 0 0 613.76,343.62Z" fill="#4f9a3a"/>
<path d="M621.86,349.43 A126.4,126.4 0 0 1 623.13,355.92 L616.82,356.99 A120,120 0 0 0 615.61,350.82Z" fill="#c0408a"/>
<path d="M624.02,362.14 A126.4,126.4 0 0 1 624.29,364.56 L617.92,365.19 A120,120 0 0 0 617.67,362.9Z" fill="#1a9bb0"/>
<path d="M624.72,370.27 A126.4,126.4 0 0 1 624.83,372.7 L618.43,372.92 A120,120 0 0 0 618.33,370.62Z" fill="#9a8a30"/>
<path d="M624.9,377.99 A126.4,126.4 0 0 1 624.85,380.42 L618.46,380.25 A120,120 0 0 0 618.5,377.94Z" fill="#8a60d0"/>
<path d="M624.49,387.14 A126.4,126.4 0 0 1 620.82,408.86 L614.63,407.25 A120,120 0 0 0 618.11,386.62Z" fill="#178a5c"/>
<path d="M618.78,415.85 A126.4,126.4 0 0 1 615.94,423.74 L610,421.37 A120,120 0 0 0 612.69,413.88Z" fill="#c0453c"/>
<path d="M612.4,431.81 A126.4,126.4 0 0 1 608.94,438.47 L603.35,435.36 A120,120 0 0 0 606.63,429.04Z" fill="#1a70d0"/>
<path d="M604.81,445.38 A126.4,126.4 0 0 1 600.95,451.03 L595.77,447.28 A120,120 0 0 0 599.42,441.92Z" fill="#4f8a2a"/>
<path d="M596.38,456.97 A126.4,126.4 0 0 1 592.21,461.82 L587.47,457.53 A120,120 0 0 0 591.43,452.92Z" fill="#c040a8"/>
<path d="M587.33,466.92 A126.4,126.4 0 0 1 583,471.01 L578.72,466.25 A120,120 0 0 0 582.83,462.37Z" fill="#15909a"/>
<path d="M578.05,475.23 A126.4,126.4 0 0 1 573.51,478.74 L569.71,473.59 A120,120 0 0 0 574.02,470.26Z" fill="#a06020"/>
<path d="M568.45,482.28 A126.4,126.4 0 0 1 563.98,485.12 L560.66,479.64 A120,120 0 0 0 564.91,476.95Z" fill="#5a50d0"/>
<path d="M559.2,487.87 A126.4,126.4 0 0 1 555.29,489.92 L552.42,484.2 A120,120 0 0 0 556.13,482.26Z" fill="#1a8a4a"/>
<path d="M550.01,492.43 A126.4,126.4 0 0 1 546.57,493.9 L544.13,487.99 A120,120 0 0 0 547.4,486.58Z" fill="#c02a50"/>
<path d="M540.8,496.11 A126.4,126.4 0 0 1 537.66,497.18 L535.68,491.09 A120,120 0 0 0 538.66,490.08Z" fill="#1a88cc"/>
<path d="M531.53,499.01 A126.4,126.4 0 0 1 528.33,499.83 L526.82,493.61 A120,120 0 0 0 529.86,492.83Z" fill="#8a8a20"/>
<path d="M522.83,501.04 A126.4,126.4 0 0 1 519.8,501.59 L518.72,495.28 A120,120 0 0 0 521.6,494.76Z" fill="#9050c0"/>
<path d="M513.79,502.47 A126.4,126.4 0 0 1 510.94,502.79 L510.31,496.42 A120,120 0 0 0 513.02,496.12Z" fill="#1a9a80"/>
<path d="M505.45,503.21 A126.4,126.4 0 0 1 503.9,503.28 L503.63,496.89 A120,120 0 0 0 505.09,496.82Z" fill="#e0a8a8"/>
<path d="M498.17,503.4 A126.4,126.4 0 0 1 496.62,503.39 L496.72,496.99 A120,120 0 0 0 498.19,497Z" fill="#b8cce8"/>
<path d="M490.56,503.15 A126.4,126.4 0 0 1 488.8,503.03 L489.29,496.65 A120,120 0 0 0 490.97,496.76Z" fill="#3a8a3a"/>
<path d="M482.88,502.43 A126.4,126.4 0 0 1 481.13,502.2 L482.01,495.86 A120,120 0 0 0 483.67,496.08Z" fill="#d070a0"/>
<path d="M475.47,501.28 A126.4,126.4 0 0 1 473.73,500.95 L474.99,494.67 A120,120 0 0 0 476.63,494.99Z" fill="#20a0c0"/>
<path d="M468.35,499.75 A126.4,126.4 0 0 1 466.64,499.32 L468.25,493.13 A120,120 0 0 0 469.88,493.54Z" fill="#c8b888"/>
<path d="M461.44,497.84 A126.4,126.4 0 0 1 456.2,496.11 L458.34,490.08 A120,120 0 0 0 463.32,491.73Z" fill="#7050c8"/>
<path d="M450.95,494.11 A126.4,126.4 0 0 1 446.89,492.38 L449.5,486.54 A120,120 0 0 0 453.35,488.18Z" fill="#1a8a50"/>
<path d="M442.59,490.36 A126.4,126.4 0 0 1 439.65,488.86 L442.63,483.2 A120,120 0 0 0 445.43,484.62Z" fill="#c83040"/>
<path d="M435.01,486.3 A126.4,126.4 0 0 1 432.93,485.06 L436.25,479.59 A120,120 0 0 0 438.23,480.77Z" fill="#2a8ad0"/>
<path d="M428.46,482.22 A126.4,126.4 0 0 1 426.82,481.11 L430.44,475.84 A120,120 0 0 0 432.01,476.89Z" fill="#c1c178"/>
<path d="M422.78,478.21 A126.4,126.4 0 0 1 421.38,477.15 L425.28,472.07 A120,120 0 0 0 426.62,473.09Z" fill="#d697cb"/>
<path d="M416.66,473.33 A126.4,126.4 0 0 1 415.49,472.32 L419.69,467.5 A120,120 0 0 0 420.81,468.45Z" fill="#6ec1c6"/>
<path d="M411.01,468.23 A126.4,126.4 0 0 1 410.06,467.31 L414.54,462.74 A120,120 0 0 0 415.44,463.61Z" fill="#d6c1a2"/>
<path d="M406.21,463.37 A126.4,126.4 0 0 1 405.31,462.39 L410.03,458.07 A120,120 0 0 0 410.88,458.99Z" fill="#c1ace0"/>
<path d="M401.67,458.25 A126.4,126.4 0 0 1 400.83,457.23 L405.77,453.17 A120,120 0 0 0 406.57,454.13Z" fill="#a2c182"/>
<path d="M396.89,452.19 A126.4,126.4 0 0 1 396.11,451.12 L401.3,447.36 A120,120 0 0 0 402.04,448.38Z" fill="#e0a2c1"/>
<path d="M392.73,446.21 A126.4,126.4 0 0 1 392.01,445.1 L397.41,441.65 A120,120 0 0 0 398.09,442.71Z" fill="#6ec1cb"/>
<path d="M389.03,440.2 A126.4,126.4 0 0 1 388.38,439.05 L393.95,435.91 A120,120 0 0 0 394.58,437Z" fill="#d6cb82"/>
<path d="M385.58,433.79 A126.4,126.4 0 0 1 384.99,432.61 L390.74,429.79 A120,120 0 0 0 391.3,430.92Z" fill="#c1ace0"/>
<path d="M382.58,427.4 A126.4,126.4 0 0 1 382.06,426.19 L387.96,423.69 A120,120 0 0 0 388.45,424.85Z" fill="#6ec1c1"/>
<path d="M379.87,420.65 A126.4,126.4 0 0 1 379.42,419.4 L385.45,417.25 A120,120 0 0 0 385.88,418.44Z" fill="#e097a2"/>
<path d="M377.56,413.74 A126.4,126.4 0 0 1 377.18,412.48 L383.32,410.68 A120,120 0 0 0 383.68,411.88Z" fill="#89b6e0"/>
<path d="M375.8,407.36 A126.4,126.4 0 0 1 375.49,406.08 L381.72,404.61 A120,120 0 0 0 382.01,405.83Z" fill="#b6c182"/>
<path d="M374.26,400.25 A126.4,126.4 0 0 1 374.02,398.95 L380.32,397.84 A120,120 0 0 0 380.55,399.07Z" fill="#d6acd6"/>
<path d="M373.15,393.28 A126.4,126.4 0 0 1 372.99,391.97 L379.34,391.21 A120,120 0 0 0 379.5,392.46Z" fill="#6ec1c1"/>
<path d="M401.53,295.92 A126.4,126.4 0 0 1 492.55,250.74 L492.85,257.13 A120,120 0 0 0 406.44,300.03Z" fill="#0f78ee"/>
<path d="M372.39,385.6 A126.4,126.4 0 0 1 397.69,300.75 L402.79,304.62 A120,120 0 0 0 378.78,385.16Z" fill="#f35a60"/>
<text x="502.2" y="244.65" font-size="4.95" fill="#3a3a3a" text-anchor="start" dominant-baseline="central" transform="rotate(-88.4 502.2 244.65)" font-family='"DejaVu Sans", sans-serif'>MIR3648-1(P)</text>
<text x="515.09" y="245.64" font-size="4.95" fill="#3a3a3a" text-anchor="start" dominant-baseline="central" transform="rotate(-82.8 515.09 245.64)" font-family='"DejaVu Sans", sans-serif'>MIR3648-2(P)</text>
<text x="528.73" y="248.1" font-size="4.95" fill="#3a3a3a" text-anchor="start" dominant-baseline="central" transform="rotate(-76.8 528.73 248.1)" font-family='"DejaVu Sans", sans-serif'>LINC01596(P)</text>
<text x="541.82" y="251.89" font-size="4.95" fill="#3a3a3a" text-anchor="start" dominant-baseline="central" transform="rotate(-70.9 541.82 251.89)" font-family='"DejaVu Sans", sans-serif'>MIR8078(P)</text>
<text x="554.25" y="256.91" font-size="4.95" fill="#3a3a3a" text-anchor="start" dominant-baseline="central" transform="rotate(-65.1 554.25 256.91)" font-family='"DejaVu Sans", sans-serif'>MIR10396B(P)</text>
<text x="565.3" y="262.69" font-size="4.95" fill="#3a3a3a" text-anchor="start" dominant-baseline="central" transform="rotate(-59.7 565.3 262.69)" font-family='"DejaVu Sans", sans-serif'>RNU2-1(P)</text>
<text x="575.57" y="269.35" font-size="4.95" fill="#3a3a3a" text-anchor="start" dominant-baseline="central" transform="rotate(-54.4 575.57 269.35)" font-family='"DejaVu Sans", sans-serif'>RNA5-8SN4(P)</text>
<text x="584.84" y="276.62" font-size="4.95" fill="#3a3a3a" text-anchor="start" dominant-baseline="central" transform="rotate(-49.3 584.84 276.62)" font-family='"DejaVu Sans", sans-serif'>FAM230E(P)</text>
<text x="593.42" y="284.7" font-size="4.95" fill="#3a3a3a" text-anchor="start" dominant-baseline="central" transform="rotate(-44.2 593.42 284.7)" font-family='"DejaVu Sans", sans-serif'>RNA45SN3(P)</text>
<text x="600.22" y="292.25" font-size="4.95" fill="#3a3a3a" text-anchor="start" dominant-baseline="central" transform="rotate(-39.8 600.22 292.25)" font-family='"DejaVu Sans", sans-serif'>MIR6724-4(P)</text>
<text x="606.56" y="300.49" font-size="4.95" fill="#3a3a3a" text-anchor="start" dominant-baseline="central" transform="rotate(-35.3 606.56 300.49)" font-family='"DejaVu Sans", sans-serif'>REXO1L2P(P)</text>
<text x="612.11" y="309.01" font-size="4.95" fill="#3a3a3a" text-anchor="start" dominant-baseline="central" transform="rotate(-30.9 612.11 309.01)" font-family='"DejaVu Sans", sans-serif'>RNA45SN2(P)</text>
<text x="616.68" y="317.3" font-size="4.95" fill="#3a3a3a" text-anchor="start" dominant-baseline="central" transform="rotate(-26.8 616.68 317.3)" font-family='"DejaVu Sans", sans-serif'>MIR6724-2(P)</text>
<text x="620.46" y="325.48" font-size="4.95" fill="#3a3a3a" text-anchor="start" dominant-baseline="central" transform="rotate(-22.9 620.46 325.48)" font-family='"DejaVu Sans", sans-serif'>MIR663A(P)</text>
<text x="623.46" y="333.24" font-size="4.95" fill="#3a3a3a" text-anchor="start" dominant-baseline="central" transform="rotate(-19.3 623.46 333.24)" font-family='"DejaVu Sans", sans-serif'>RNA5-8SN3(P)</text>
<text x="626.02" y="341.4" font-size="4.95" fill="#3a3a3a" text-anchor="start" dominant-baseline="central" transform="rotate(-15.6 626.02 341.4)" font-family='"DejaVu Sans", sans-serif'>SNX16(P)</text>
<text x="628.42" y="351.51" font-size="4.95" fill="#3a3a3a" text-anchor="start" dominant-baseline="central" transform="rotate(-11.1 628.42 351.51)" font-family='"DejaVu Sans", sans-serif'>ROCK1P1(P)</text>
<text x="630.13" y="362.7" font-size="4.95" fill="#3a3a3a" text-anchor="start" dominant-baseline="central" transform="rotate(-6.2 630.13 362.7)" font-family='"DejaVu Sans", sans-serif'>MIR10396A(P)</text>
<text x="630.77" y="371.22" font-size="4.95" fill="#3a3a3a" text-anchor="start" dominant-baseline="central" transform="rotate(-2.5 630.77 371.22)" font-family='"DejaVu Sans", sans-serif'>RNA28SN5(P)</text>
<text x="630.88" y="379.31" font-size="4.95" fill="#3a3a3a" text-anchor="start" dominant-baseline="central" transform="rotate(1 630.88 379.31)" font-family='"DejaVu Sans", sans-serif'>MIR6724-1(P)</text>
<text x="629.05" y="399.08" font-size="4.95" fill="#3a3a3a" text-anchor="start" dominant-baseline="central" transform="rotate(9.6 629.05 399.08)" font-family='"DejaVu Sans", sans-serif'>DUX4(I)</text>
<text x="623.07" y="421.85" font-size="4.95" fill="#3a3a3a" text-anchor="start" dominant-baseline="central" transform="rotate(19.8 623.07 421.85)" font-family='"DejaVu Sans", sans-serif'>FAM230C(I)</text>
<text x="616.05" y="437.93" font-size="4.95" fill="#3a3a3a" text-anchor="start" dominant-baseline="central" transform="rotate(27.4 616.05 437.93)" font-family='"DejaVu Sans", sans-serif'>HFM1(I)</text>
<text x="607.88" y="451.61" font-size="4.95" fill="#3a3a3a" text-anchor="start" dominant-baseline="central" transform="rotate(34.3 607.88 451.61)" font-family='"DejaVu Sans", sans-serif'>ROCK1P1(I)</text>
<text x="598.88" y="463.34" font-size="4.95" fill="#3a3a3a" text-anchor="start" dominant-baseline="central" transform="rotate(40.7 598.88 463.34)" font-family='"DejaVu Sans", sans-serif'>FAM230H(I)</text>
<text x="589.3" y="473.36" font-size="4.95" fill="#3a3a3a" text-anchor="start" dominant-baseline="central" transform="rotate(46.7 589.3 473.36)" font-family='"DejaVu Sans", sans-serif'>SULF1(I)</text>
<text x="579.47" y="481.76" font-size="4.95" fill="#3a3a3a" text-anchor="start" dominant-baseline="central" transform="rotate(52.3 579.47 481.76)" font-family='"DejaVu Sans", sans-serif'>PDE3A(I)</text>
<text x="569.44" y="488.79" font-size="4.95" fill="#3a3a3a" text-anchor="start" dominant-baseline="central" transform="rotate(57.6 569.44 488.79)" font-family='"DejaVu Sans", sans-serif'>FAM230F(I)</text>
<text x="560.05" y="494.23" font-size="4.95" fill="#3a3a3a" text-anchor="start" dominant-baseline="central" transform="rotate(62.3 560.05 494.23)" font-family='"DejaVu Sans", sans-serif'>ANKRD20A8P(I)</text>
<text x="550.66" y="498.69" font-size="4.95" fill="#3a3a3a" text-anchor="start" dominant-baseline="central" transform="rotate(66.8 550.66 498.69)" font-family='"DejaVu Sans", sans-serif'>FAM230D(I)</text>
<text x="541.17" y="502.34" font-size="4.95" fill="#3a3a3a" text-anchor="start" dominant-baseline="central" transform="rotate(71.2 541.17 502.34)" font-family='"DejaVu Sans", sans-serif'>FAM230J(I)</text>
<text x="531.43" y="505.24" font-size="4.95" fill="#3a3a3a" text-anchor="start" dominant-baseline="central" transform="rotate(75.6 531.43 505.24)" font-family='"DejaVu Sans", sans-serif'>RNA5-8SN4(I)</text>
<text x="522.4" y="507.22" font-size="4.95" fill="#3a3a3a" text-anchor="start" dominant-baseline="central" transform="rotate(79.6 522.4 507.22)" font-family='"DejaVu Sans", sans-serif'>TMEM242(I)</text>
<text x="513.03" y="508.6" font-size="4.95" fill="#3a3a3a" text-anchor="start" dominant-baseline="central" transform="rotate(83.7 513.03 508.6)" font-family='"DejaVu Sans", sans-serif'>FAM230I(I)</text>
<text x="504.97" y="509.24" font-size="4.95" fill="#3a3a3a" text-anchor="start" dominant-baseline="central" transform="rotate(87.2 504.97 509.24)" font-family='"DejaVu Sans", sans-serif'>MMEL1(I)</text>
<text x="497.34" y="509.39" font-size="4.95" fill="#3a3a3a" text-anchor="end" dominant-baseline="central" transform="rotate(-89.5 497.34 509.39)" font-family='"DejaVu Sans", sans-serif'>LINC01667(I)</text>
<text x="489.26" y="509.08" font-size="4.95" fill="#3a3a3a" text-anchor="end" dominant-baseline="central" transform="rotate(-86 489.26 509.08)" font-family='"DejaVu Sans", sans-serif'>ARHGEF18(I)</text>
<text x="481.22" y="508.27" font-size="4.95" fill="#3a3a3a" text-anchor="end" dominant-baseline="central" transform="rotate(-82.5 481.22 508.27)" font-family='"DejaVu Sans", sans-serif'>AP2A2(I)</text>
<text x="473.46" y="507.01" font-size="4.95" fill="#3a3a3a" text-anchor="end" dominant-baseline="central" transform="rotate(-79.1 473.46 507.01)" font-family='"DejaVu Sans", sans-serif'>SERINC2(I)</text>
<text x="466.02" y="505.35" font-size="4.95" fill="#3a3a3a" text-anchor="end" dominant-baseline="central" transform="rotate(-75.8 466.02 505.35)" font-family='"DejaVu Sans", sans-serif'>RNA28SN2(I)</text>
<text x="456.93" y="502.7" font-size="4.95" fill="#3a3a3a" text-anchor="end" dominant-baseline="central" transform="rotate(-71.7 456.93 502.7)" font-family='"DejaVu Sans", sans-serif'>MUC6(E)</text>
<text x="446.55" y="498.78" font-size="4.95" fill="#3a3a3a" text-anchor="end" dominant-baseline="central" transform="rotate(-66.9 446.55 498.78)" font-family='"DejaVu Sans", sans-serif'>MUC3A(E)</text>
<text x="438.39" y="494.97" font-size="4.95" fill="#3a3a3a" text-anchor="end" dominant-baseline="central" transform="rotate(-63 438.39 494.97)" font-family='"DejaVu Sans", sans-serif'>USP17L11(E)</text>
<text x="430.9" y="490.84" font-size="4.95" fill="#3a3a3a" text-anchor="end" dominant-baseline="central" transform="rotate(-59.3 430.9 490.84)" font-family='"DejaVu Sans", sans-serif'>USP17L20(E)</text>
<text x="424.27" y="486.64" font-size="4.95" fill="#3a3a3a" text-anchor="end" dominant-baseline="central" transform="rotate(-55.9 424.27 486.64)" font-family='"DejaVu Sans", sans-serif'>FBLL1(E)</text>
<text x="418.45" y="482.46" font-size="4.95" fill="#3a3a3a" text-anchor="end" dominant-baseline="central" transform="rotate(-52.8 418.45 482.46)" font-family='"DejaVu Sans", sans-serif'>SLC22A3(E)</text>
<text x="412.16" y="477.38" font-size="4.95" fill="#3a3a3a" text-anchor="end" dominant-baseline="central" transform="rotate(-49.3 412.16 477.38)" font-family='"DejaVu Sans", sans-serif'>PALLD(E)</text>
<text x="406.36" y="472.08" font-size="4.95" fill="#3a3a3a" text-anchor="end" dominant-baseline="central" transform="rotate(-45.9 406.36 472.08)" font-family='"DejaVu Sans", sans-serif'>DYNC1LI1(E)</text>
<text x="401.35" y="466.96" font-size="4.95" fill="#3a3a3a" text-anchor="end" dominant-baseline="central" transform="rotate(-42.8 401.35 466.96)" font-family='"DejaVu Sans", sans-serif'>C2orf72(E)</text>
<text x="396.63" y="461.57" font-size="4.95" fill="#3a3a3a" text-anchor="end" dominant-baseline="central" transform="rotate(-39.7 396.63 461.57)" font-family='"DejaVu Sans", sans-serif'>TUSC1(E)</text>
<text x="391.66" y="455.2" font-size="4.95" fill="#3a3a3a" text-anchor="end" dominant-baseline="central" transform="rotate(-36.2 391.66 455.2)" font-family='"DejaVu Sans", sans-serif'>CLIC6(E)</text>
<text x="387.33" y="448.92" font-size="4.95" fill="#3a3a3a" text-anchor="end" dominant-baseline="central" transform="rotate(-32.9 387.33 448.92)" font-family='"DejaVu Sans", sans-serif'>BICC1(E)</text>
<text x="383.49" y="442.6" font-size="4.95" fill="#3a3a3a" text-anchor="end" dominant-baseline="central" transform="rotate(-29.7 383.49 442.6)" font-family='"DejaVu Sans", sans-serif'>PCDHA8(E)</text>
<text x="379.91" y="435.87" font-size="4.95" fill="#3a3a3a" text-anchor="end" dominant-baseline="central" transform="rotate(-26.4 379.91 435.87)" font-family='"DejaVu Sans", sans-serif'>FOXI3(E)</text>
<text x="376.81" y="429.16" font-size="4.95" fill="#3a3a3a" text-anchor="end" dominant-baseline="central" transform="rotate(-23.2 376.81 429.16)" font-family='"DejaVu Sans", sans-serif'>SLC10A4(E)</text>
<text x="374.01" y="422.07" font-size="4.95" fill="#3a3a3a" text-anchor="end" dominant-baseline="central" transform="rotate(-19.9 374.01 422.07)" font-family='"DejaVu Sans", sans-serif'>B3GNT6(E)</text>
<text x="371.62" y="414.83" font-size="4.95" fill="#3a3a3a" text-anchor="end" dominant-baseline="central" transform="rotate(-16.6 371.62 414.83)" font-family='"DejaVu Sans", sans-serif'>FAM89A(E)</text>
<text x="369.81" y="408.13" font-size="4.95" fill="#3a3a3a" text-anchor="end" dominant-baseline="central" transform="rotate(-13.6 369.81 408.13)" font-family='"DejaVu Sans", sans-serif'>PURB(E)</text>
<text x="368.23" y="400.67" font-size="4.95" fill="#3a3a3a" text-anchor="end" dominant-baseline="central" transform="rotate(-10.3 368.23 400.67)" font-family='"DejaVu Sans", sans-serif'>RNF225(E)</text>
<text x="367.12" y="393.36" font-size="4.95" fill="#3a3a3a" text-anchor="end" dominant-baseline="central" transform="rotate(-7.1 367.12 393.36)" font-family='"DejaVu Sans", sans-serif'>TGIF1(E)</text>
<text x="432.47" y="243.99" font-size="5.2" fill="#333" text-anchor="middle" dominant-baseline="central" transform="rotate(61 432.47 243.99)" font-family='"DejaVu Sans", sans-serif'>Non-Cancer</text>
<text x="363.45" y="336.48" font-size="5.4" fill="#333" text-anchor="middle" dominant-baseline="central" transform="rotate(21 363.45 336.48)" font-family='"DejaVu Sans", sans-serif'>Cancer</text>
<text x="13.7" y="565.2" font-size="16" text-anchor="start" fill="#000" font-family='"Liberation Sans", Arial, sans-serif'>F.</text>
<line x1="44.9" y1="603.7" x2="44.9" y2="695" stroke="#444" stroke-width="1"/>
<line x1="44.4" y1="694.5" x2="198.5" y2="694.5" stroke="#444" stroke-width="1"/>
<line x1="41.6" y1="694.5" x2="44.9" y2="694.5" stroke="#444" stroke-width="1"/>
<text x="40.7" y="697.2" font-size="7.6" font-weight="bold" stroke="#000" stroke-width="0.21" text-anchor="end" fill="#000" font-family='"Liberation Sans", Arial, sans-serif'>0</text>
<line x1="41.6" y1="671.75" x2="44.9" y2="671.75" stroke="#444" stroke-width="1"/>
<text x="40.7" y="674.45" font-size="7.6" font-weight="bold" stroke="#000" stroke-width="0.21" text-anchor="end" fill="#000" font-family='"Liberation Sans", Arial, sans-serif'>20</text>
<line x1="41.6" y1="649" x2="44.9" y2="649" stroke="#444" stroke-width="1"/>
<text x="40.7" y="651.7" font-size="7.6" font-weight="bold" stroke="#000" stroke-width="0.21" text-anchor="end" fill="#000" font-family='"Liberation Sans", Arial, sans-serif'>40</text>
<line x1="41.6" y1="626.25" x2="44.9" y2="626.25" stroke="#444" stroke-width="1"/>
<text x="40.7" y="628.95" font-size="7.6" font-weight="bold" stroke="#000" stroke-width="0.21" text-anchor="end" fill="#000" font-family='"Liberation Sans", Arial, sans-serif'>60</text>
<line x1="41.6" y1="603.5" x2="44.9" y2="603.5" stroke="#444" stroke-width="1"/>
<text x="40.7" y="606.2" font-size="7.6" font-weight="bold" stroke="#000" stroke-width="0.21" text-anchor="end" fill="#000" font-family='"Liberation Sans", Arial, sans-serif'>80</text>
<text x="121.7" y="588.3" font-size="8.6" font-weight="bold" stroke="#000" stroke-width="0.24" text-anchor="middle" fill="#000" font-family='"Liberation Sans", Arial, sans-serif'>Promoters</text>
<text x="25.1" y="651" font-size="7.4" font-weight="bold" stroke="#000" stroke-width="0.2" text-anchor="middle" fill="#000" transform="rotate(-90 25.1 651)" font-family='"Liberation Sans", Arial, sans-serif' dominant-baseline="central">Peak Score / Top20 Peak Scores</text>
<line x1="68.3" y1="694.5" x2="68.3" y2="697.3" stroke="#444" stroke-width="1"/>
<text x="68.3" y="705.2" font-size="7.3" font-weight="bold" stroke="#000" stroke-width="0.2" text-anchor="middle" fill="#000" font-family='"Liberation Sans", Arial, sans-serif'>ROCK1P1</text>
<line x1="51.5" y1="666.7" x2="64.5" y2="666.7" stroke="#222" stroke-width="1.1" stroke-dasharray="2.6,1.3"/>
<line x1="71.4" y1="653.7" x2="84" y2="653.7" stroke="#222" stroke-width="1.1" stroke-dasharray="2.6,1.3"/>
<circle cx="58.3" cy="655.9" r="1.5" fill="#1677e8"/>
<circle cx="55.7" cy="665" r="1.5" fill="#1677e8"/>
<circle cx="61.3" cy="663.9" r="1.5" fill="#1677e8"/>
<circle cx="52.3" cy="666.7" r="1.5" fill="#1677e8"/>
<circle cx="63.8" cy="666.4" r="1.5" fill="#1677e8"/>
<circle cx="56" cy="668" r="1.5" fill="#1677e8"/>
<circle cx="60" cy="667.6" r="1.5" fill="#1677e8"/>
<circle cx="55.7" cy="672" r="1.5" fill="#1677e8"/>
<circle cx="61.3" cy="670.9" r="1.5" fill="#1677e8"/>
<circle cx="58.3" cy="668.5" r="1.5" fill="#1677e8"/>
<circle cx="78.3" cy="609.4" r="1.5" fill="#f06a70"/>
<circle cx="76.7" cy="641.3" r="1.5" fill="#f06a70"/>
<circle cx="80.2" cy="640" r="1.5" fill="#f06a70"/>
<circle cx="78.4" cy="645.8" r="1.5" fill="#f06a70"/>
<circle cx="78.4" cy="651.3" r="1.5" fill="#f06a70"/>
<circle cx="73" cy="655.9" r="1.5" fill="#f06a70"/>
<circle cx="76.7" cy="658.3" r="1.5" fill="#f06a70"/>
<circle cx="80.2" cy="657.2" r="1.5" fill="#f06a70"/>
<circle cx="83.8" cy="658.3" r="1.5" fill="#f06a70"/>
<circle cx="78.4" cy="661.7" r="1.5" fill="#f06a70"/>
<path d="M55.6,634.4 V601.3 H77.6 V605.3" stroke="#777" stroke-width="0.9" fill="none"/>
<text x="63.75" y="600.56" font-size="10.6" font-weight="bold" text-anchor="middle" font-family='"DejaVu Sans", sans-serif' stroke="#000" stroke-width="0.53" stroke-linejoin="round">*</text>
<text x="69.45" y="600.56" font-size="10.6" font-weight="bold" text-anchor="middle" font-family='"DejaVu Sans", sans-serif' stroke="#000" stroke-width="0.53" stroke-linejoin="round">*</text>
<line x1="121.4" y1="694.5" x2="121.4" y2="697.3" stroke="#444" stroke-width="1"/>
<text x="121.4" y="705.2" font-size="7.3" font-weight="bold" stroke="#000" stroke-width="0.2" text-anchor="middle" fill="#000" font-family='"Liberation Sans", Arial, sans-serif'>LINC01596</text>
<line x1="105" y1="687.3" x2="118" y2="687.3" stroke="#222" stroke-width="1.1" stroke-dasharray="2.6,1.3"/>
<line x1="124.5" y1="692.6" x2="138" y2="692.6" stroke="#222" stroke-width="1.1" stroke-dasharray="2.6,1.3"/>
<circle cx="111.8" cy="671.5" r="1.5" fill="#1677e8"/>
<circle cx="111.8" cy="676.3" r="1.5" fill="#1677e8"/>
<circle cx="115.3" cy="681.7" r="1.5" fill="#1677e8"/>
<circle cx="113.3" cy="684.3" r="1.5" fill="#1677e8"/>
<circle cx="105.5" cy="687.3" r="1.5" fill="#1677e8"/>
<circle cx="108.5" cy="687.3" r="1.5" fill="#1677e8"/>
<circle cx="111.5" cy="687.3" r="1.5" fill="#1677e8"/>
<circle cx="114.5" cy="687.3" r="1.5" fill="#1677e8"/>
<circle cx="117.5" cy="687.3" r="1.5" fill="#1677e8"/>
<circle cx="117.3" cy="690.5" r="1.5" fill="#1677e8"/>
<circle cx="128.5" cy="686.6" r="1.5" fill="#f06a70"/>
<circle cx="131" cy="685.2" r="1.5" fill="#f06a70"/>
<circle cx="133.3" cy="684.2" r="1.5" fill="#f06a70"/>
<circle cx="131.3" cy="689.3" r="1.5" fill="#f06a70"/>
<circle cx="125.3" cy="693.6" r="1.5" fill="#f06a70"/>
<circle cx="128.3" cy="693.6" r="1.5" fill="#f06a70"/>
<circle cx="131.3" cy="693.6" r="1.5" fill="#f06a70"/>
<circle cx="134.3" cy="693.6" r="1.5" fill="#f06a70"/>
<circle cx="137.3" cy="693.6" r="1.5" fill="#f06a70"/>
<path d="M111.1,655.7 V622.6 H131.3 V669.5" stroke="#777" stroke-width="0.9" fill="none"/>
<text x="118.35" y="621.86" font-size="10.6" font-weight="bold" text-anchor="middle" font-family='"DejaVu Sans", sans-serif' stroke="#000" stroke-width="0.53" stroke-linejoin="round">*</text>
<text x="124.05" y="621.86" font-size="10.6" font-weight="bold" text-anchor="middle" font-family='"DejaVu Sans", sans-serif' stroke="#000" stroke-width="0.53" stroke-linejoin="round">*</text>
<line x1="175.1" y1="694.5" x2="175.1" y2="697.3" stroke="#444" stroke-width="1"/>
<text x="175.1" y="705.2" font-size="7.3" font-weight="bold" stroke="#000" stroke-width="0.2" text-anchor="middle" fill="#000" font-family='"Liberation Sans", Arial, sans-serif'>MIR8078</text>
<line x1="159" y1="691.3" x2="172" y2="691.3" stroke="#222" stroke-width="1.1" stroke-dasharray="2.6,1.3"/>
<line x1="178" y1="683.5" x2="192" y2="683.5" stroke="#222" stroke-width="1.1" stroke-dasharray="2.6,1.3"/>
<circle cx="165.2" cy="684" r="1.5" fill="#1677e8"/>
<circle cx="161.3" cy="688.2" r="1.5" fill="#1677e8"/>
<circle cx="164.3" cy="688.2" r="1.5" fill="#1677e8"/>
<circle cx="167.3" cy="688.2" r="1.5" fill="#1677e8"/>
<circle cx="170.3" cy="688.2" r="1.5" fill="#1677e8"/>
<circle cx="161" cy="691.3" r="1.5" fill="#1677e8"/>
<circle cx="164" cy="691.3" r="1.5" fill="#1677e8"/>
<circle cx="167" cy="691.3" r="1.5" fill="#1677e8"/>
<circle cx="170" cy="691.3" r="1.5" fill="#1677e8"/>
<circle cx="159.8" cy="694.3" r="1.5" fill="#1677e8"/>
<circle cx="162.8" cy="694.3" r="1.5" fill="#1677e8"/>
<circle cx="165.8" cy="694.3" r="1.5" fill="#1677e8"/>
<circle cx="168.8" cy="694.3" r="1.5" fill="#1677e8"/>
<circle cx="171.8" cy="694.3" r="1.5" fill="#1677e8"/>
<circle cx="180.6" cy="679.7" r="1.5" fill="#f06a70"/>
<circle cx="183.8" cy="679.7" r="1.5" fill="#f06a70"/>
<circle cx="187" cy="679.7" r="1.5" fill="#f06a70"/>
<circle cx="190.2" cy="679.7" r="1.5" fill="#f06a70"/>
<circle cx="178.6" cy="683.5" r="1.5" fill="#f06a70"/>
<circle cx="181.8" cy="683.5" r="1.5" fill="#f06a70"/>
<circle cx="185" cy="683.5" r="1.5" fill="#f06a70"/>
<circle cx="188.2" cy="683.5" r="1.5" fill="#f06a70"/>
<circle cx="191.4" cy="683.5" r="1.5" fill="#f06a70"/>
<circle cx="186.5" cy="685.6" r="1.5" fill="#f06a70"/>
<circle cx="183.2" cy="694.5" r="1.5" fill="#f06a70"/>
<circle cx="187.3" cy="694.5" r="1.5" fill="#f06a70"/>
<path d="M165.6,675.6 V640.9 H183.7 V664.9" stroke="#777" stroke-width="0.9" fill="none"/>
<text x="171.8" y="640.16" font-size="10.6" font-weight="bold" text-anchor="middle" font-family='"DejaVu Sans", sans-serif' stroke="#000" stroke-width="0.53" stroke-linejoin="round">*</text>
<text x="177.5" y="640.16" font-size="10.6" font-weight="bold" text-anchor="middle" font-family='"DejaVu Sans", sans-serif' stroke="#000" stroke-width="0.53" stroke-linejoin="round">*</text>
<line x1="249.3" y1="606.4" x2="249.3" y2="695.3" stroke="#444" stroke-width="1"/>
<line x1="248.8" y1="694.8" x2="447.4" y2="694.8" stroke="#444" stroke-width="1"/>
<line x1="246" y1="694.8" x2="249.3" y2="694.8" stroke="#444" stroke-width="1"/>
<text x="245.1" y="697.5" font-size="7.6" font-weight="bold" stroke="#000" stroke-width="0.21" text-anchor="end" fill="#000" font-family='"Liberation Sans", Arial, sans-serif'>0</text>
<line x1="246" y1="665.37" x2="249.3" y2="665.37" stroke="#444" stroke-width="1"/>
<text x="245.1" y="668.07" font-size="7.6" font-weight="bold" stroke="#000" stroke-width="0.21" text-anchor="end" fill="#000" font-family='"Liberation Sans", Arial, sans-serif'>10</text>
<line x1="246" y1="635.94" x2="249.3" y2="635.94" stroke="#444" stroke-width="1"/>
<text x="245.1" y="638.64" font-size="7.6" font-weight="bold" stroke="#000" stroke-width="0.21" text-anchor="end" fill="#000" font-family='"Liberation Sans", Arial, sans-serif'>20</text>
<line x1="246" y1="606.51" x2="249.3" y2="606.51" stroke="#444" stroke-width="1"/>
<text x="245.1" y="609.21" font-size="7.6" font-weight="bold" stroke="#000" stroke-width="0.21" text-anchor="end" fill="#000" font-family='"Liberation Sans", Arial, sans-serif'>30</text>
<text x="348.6" y="591.4" font-size="8.6" font-weight="bold" stroke="#000" stroke-width="0.24" text-anchor="middle" fill="#000" font-family='"Liberation Sans", Arial, sans-serif'>Intron</text>
<text x="230.1" y="651" font-size="7.4" font-weight="bold" stroke="#000" stroke-width="0.2" text-anchor="middle" fill="#000" transform="rotate(-90 230.1 651)" font-family='"Liberation Sans", Arial, sans-serif' dominant-baseline="central">Peak Score / Top20 Peak Scores</text>
<line x1="272" y1="694.8" x2="272" y2="697.6" stroke="#444" stroke-width="1"/>
<text x="272" y="705.2" font-size="7.3" font-weight="bold" stroke="#000" stroke-width="0.2" text-anchor="middle" fill="#000" font-family='"Liberation Sans", Arial, sans-serif'>PDE3A</text>
<line x1="255.5" y1="674.3" x2="268.5" y2="674.3" stroke="#222" stroke-width="1.1" stroke-dasharray="2.6,1.3"/>
<line x1="275" y1="684.4" x2="288" y2="684.4" stroke="#222" stroke-width="1.1" stroke-dasharray="2.6,1.3"/>
<circle cx="262.4" cy="665.3" r="1.5" fill="#1677e8"/>
<circle cx="259.7" cy="671.2" r="1.5" fill="#1677e8"/>
<circle cx="264.8" cy="671.2" r="1.5" fill="#1677e8"/>
<circle cx="256.7" cy="674.3" r="1.5" fill="#1677e8"/>
<circle cx="259.7" cy="674.3" r="1.5" fill="#1677e8"/>
<circle cx="262.4" cy="674.3" r="1.5" fill="#1677e8"/>
<circle cx="264.8" cy="674.3" r="1.5" fill="#1677e8"/>
<circle cx="267.5" cy="674.3" r="1.5" fill="#1677e8"/>
<circle cx="257.4" cy="677.4" r="1.5" fill="#1677e8"/>
<circle cx="262.4" cy="677.4" r="1.5" fill="#1677e8"/>
<circle cx="267.2" cy="677.4" r="1.5" fill="#1677e8"/>
<circle cx="262.4" cy="683.3" r="1.5" fill="#1677e8"/>
<circle cx="281.6" cy="671.6" r="1.5" fill="#f06a70"/>
<circle cx="278.9" cy="680.1" r="1.5" fill="#f06a70"/>
<circle cx="284" cy="680.1" r="1.5" fill="#f06a70"/>
<circle cx="276.2" cy="684.4" r="1.5" fill="#f06a70"/>
<circle cx="278.9" cy="684.4" r="1.5" fill="#f06a70"/>
<circle cx="281.6" cy="684.4" r="1.5" fill="#f06a70"/>
<circle cx="284" cy="684.4" r="1.5" fill="#f06a70"/>
<circle cx="286.3" cy="684.4" r="1.5" fill="#f06a70"/>
<circle cx="278.9" cy="691.8" r="1.5" fill="#f06a70"/>
<circle cx="284" cy="691.8" r="1.5" fill="#f06a70"/>
<path d="M262.4,650.5 V617.5 H281.6 V664" stroke="#777" stroke-width="0.9" fill="none"/>
<text x="269.15" y="616.76" font-size="10.6" font-weight="bold" text-anchor="middle" font-family='"DejaVu Sans", sans-serif' stroke="#000" stroke-width="0.53" stroke-linejoin="round">*</text>
<text x="274.85" y="616.76" font-size="10.6" font-weight="bold" text-anchor="middle" font-family='"DejaVu Sans", sans-serif' stroke="#000" stroke-width="0.53" stroke-linejoin="round">*</text>
<line x1="323.2" y1="694.8" x2="323.2" y2="697.6" stroke="#444" stroke-width="1"/>
<text x="323.2" y="705.2" font-size="7.3" font-weight="bold" stroke="#000" stroke-width="0.2" text-anchor="middle" fill="#000" font-family='"Liberation Sans", Arial, sans-serif'>ARHGEF18</text>
<line x1="307" y1="683.3" x2="319.5" y2="683.3" stroke="#222" stroke-width="1.1" stroke-dasharray="2.6,1.3"/>
<line x1="326" y1="689.4" x2="338.5" y2="689.4" stroke="#222" stroke-width="1.1" stroke-dasharray="2.6,1.3"/>
<circle cx="313.2" cy="674.3" r="1.5" fill="#1677e8"/>
<circle cx="313.2" cy="677.7" r="1.5" fill="#1677e8"/>
<circle cx="313.2" cy="680.4" r="1.5" fill="#1677e8"/>
<circle cx="308.1" cy="683.3" r="1.5" fill="#1677e8"/>
<circle cx="310.8" cy="683.3" r="1.5" fill="#1677e8"/>
<circle cx="313.2" cy="683.3" r="1.5" fill="#1677e8"/>
<circle cx="315.9" cy="683.3" r="1.5" fill="#1677e8"/>
<circle cx="318.6" cy="683.3" r="1.5" fill="#1677e8"/>
<circle cx="313.2" cy="686" r="1.5" fill="#1677e8"/>
<circle cx="308.1" cy="689.1" r="1.5" fill="#1677e8"/>
<circle cx="313.2" cy="689.1" r="1.5" fill="#1677e8"/>
<circle cx="318.6" cy="689.1" r="1.5" fill="#1677e8"/>
<circle cx="330" cy="686.4" r="1.5" fill="#f06a70"/>
<circle cx="334.5" cy="686.4" r="1.5" fill="#f06a70"/>
<circle cx="326.7" cy="689.4" r="1.5" fill="#f06a70"/>
<circle cx="329.4" cy="689.4" r="1.5" fill="#f06a70"/>
<circle cx="332.3" cy="689.4" r="1.5" fill="#f06a70"/>
<circle cx="335" cy="689.4" r="1.5" fill="#f06a70"/>
<circle cx="337.7" cy="689.4" r="1.5" fill="#f06a70"/>
<circle cx="330" cy="691.8" r="1.5" fill="#f06a70"/>
<circle cx="334.5" cy="691.8" r="1.5" fill="#f06a70"/>
<circle cx="332.3" cy="694.3" r="1.5" fill="#f06a70"/>
<path d="M313.9,657.5 V625.1 H333.1 V670.7" stroke="#777" stroke-width="0.9" fill="none"/>
<text x="320.65" y="624.36" font-size="10.6" font-weight="bold" text-anchor="middle" font-family='"DejaVu Sans", sans-serif' stroke="#000" stroke-width="0.53" stroke-linejoin="round">*</text>
<text x="326.35" y="624.36" font-size="10.6" font-weight="bold" text-anchor="middle" font-family='"DejaVu Sans", sans-serif' stroke="#000" stroke-width="0.53" stroke-linejoin="round">*</text>
<line x1="373.8" y1="694.8" x2="373.8" y2="697.6" stroke="#444" stroke-width="1"/>
<text x="373.8" y="705.2" font-size="7.3" font-weight="bold" stroke="#000" stroke-width="0.2" text-anchor="middle" fill="#000" font-family='"Liberation Sans", Arial, sans-serif'>AP2A2</text>
<line x1="357.5" y1="686.1" x2="370.5" y2="686.1" stroke="#222" stroke-width="1.1" stroke-dasharray="2.6,1.3"/>
<line x1="376.5" y1="692.3" x2="389.5" y2="692.3" stroke="#222" stroke-width="1.1" stroke-dasharray="2.6,1.3"/>
<circle cx="361.3" cy="679.8" r="1.5" fill="#1677e8"/>
<circle cx="367.1" cy="679.8" r="1.5" fill="#1677e8"/>
<circle cx="364" cy="682.9" r="1.5" fill="#1677e8"/>
<circle cx="358" cy="686.1" r="1.5" fill="#1677e8"/>
<circle cx="361.3" cy="686.1" r="1.5" fill="#1677e8"/>
<circle cx="364" cy="686.1" r="1.5" fill="#1677e8"/>
<circle cx="367.1" cy="686.1" r="1.5" fill="#1677e8"/>
<circle cx="369.8" cy="686.1" r="1.5" fill="#1677e8"/>
<circle cx="361.3" cy="689.2" r="1.5" fill="#1677e8"/>
<circle cx="367.1" cy="689.2" r="1.5" fill="#1677e8"/>
<circle cx="358" cy="692.3" r="1.5" fill="#1677e8"/>
<circle cx="364" cy="692.3" r="1.5" fill="#1677e8"/>
<circle cx="369.8" cy="692.3" r="1.5" fill="#1677e8"/>
<circle cx="383.3" cy="686.1" r="1.5" fill="#f06a70"/>
<circle cx="377" cy="692.3" r="1.5" fill="#f06a70"/>
<circle cx="380.1" cy="692.3" r="1.5" fill="#f06a70"/>
<circle cx="383.3" cy="692.3" r="1.5" fill="#f06a70"/>
<circle cx="386" cy="692.3" r="1.5" fill="#f06a70"/>
<circle cx="388.7" cy="692.3" r="1.5" fill="#f06a70"/>
<path d="M363.1,663.9 V631.1 H382.8 V676.6" stroke="#777" stroke-width="0.9" fill="none"/>
<text x="370.1" y="630.36" font-size="10.6" font-weight="bold" text-anchor="middle" font-family='"DejaVu Sans", sans-serif' stroke="#000" stroke-width="0.53" stroke-linejoin="round">*</text>
<text x="375.8" y="630.36" font-size="10.6" font-weight="bold" text-anchor="middle" font-family='"DejaVu Sans", sans-serif' stroke="#000" stroke-width="0.53" stroke-linejoin="round">*</text>
<line x1="424.5" y1="694.8" x2="424.5" y2="697.6" stroke="#444" stroke-width="1"/>
<text x="424.5" y="705.2" font-size="7.3" font-weight="bold" stroke="#000" stroke-width="0.2" text-anchor="middle" fill="#000" font-family='"Liberation Sans", Arial, sans-serif'>FAM230C</text>
<line x1="409" y1="653.5" x2="421.5" y2="653.5" stroke="#222" stroke-width="1.1" stroke-dasharray="2.6,1.3"/>
<line x1="428.1" y1="643.2" x2="440.2" y2="643.2" stroke="#222" stroke-width="1.1" stroke-dasharray="2.6,1.3"/>
<circle cx="412.2" cy="641.9" r="1.5" fill="#1677e8"/>
<circle cx="418.2" cy="641.9" r="1.5" fill="#1677e8"/>
<circle cx="412.2" cy="650.4" r="1.5" fill="#1677e8"/>
<circle cx="418.2" cy="650.4" r="1.5" fill="#1677e8"/>
<circle cx="412.2" cy="653.5" r="1.5" fill="#1677e8"/>
<circle cx="418.2" cy="653.5" r="1.5" fill="#1677e8"/>
<circle cx="418" cy="656.7" r="1.5" fill="#1677e8"/>
<circle cx="418" cy="668.4" r="1.5" fill="#1677e8"/>
<circle cx="412.2" cy="674.2" r="1.5" fill="#1677e8"/>
<circle cx="418.2" cy="674.2" r="1.5" fill="#1677e8"/>
<circle cx="431.7" cy="623.9" r="1.5" fill="#f06a70"/>
<circle cx="437.5" cy="623.9" r="1.5" fill="#f06a70"/>
<circle cx="431.7" cy="636" r="1.5" fill="#f06a70"/>
<circle cx="437.5" cy="636" r="1.5" fill="#f06a70"/>
<circle cx="434.4" cy="638.7" r="1.5" fill="#f06a70"/>
<circle cx="434.4" cy="647.7" r="1.5" fill="#f06a70"/>
<circle cx="431.7" cy="653.6" r="1.5" fill="#f06a70"/>
<circle cx="437.5" cy="653.6" r="1.5" fill="#f06a70"/>
<circle cx="434.4" cy="659.4" r="1.5" fill="#f06a70"/>
<path d="M412.2,631 V611.6 H434.2 V615.6" stroke="#777" stroke-width="0.9" fill="none"/>
<text x="423.2" y="610.86" font-size="10.6" font-weight="bold" text-anchor="middle" font-family='"DejaVu Sans", sans-serif' stroke="#000" stroke-width="0.53" stroke-linejoin="round">*</text>
</svg>
</body></html>
